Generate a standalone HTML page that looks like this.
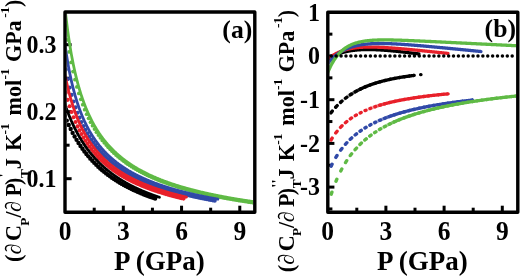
<!DOCTYPE html><html><head><meta charset="utf-8"><style>html,body{margin:0;padding:0;background:#fff;}svg{display:block;filter:blur(0.45px);}</style></head><body><svg width="520" height="276" viewBox="0 0 520 276" font-family="'Liberation Serif', 'DejaVu Serif', serif" font-weight="bold">
<rect width="520" height="276" fill="#fff"/>
<line x1="94.22" y1="212.30" x2="94.22" y2="207.70" stroke="#000" stroke-width="3"/>
<line x1="356.80" y1="212.30" x2="356.80" y2="207.70" stroke="#000" stroke-width="3"/>
<line x1="123.33" y1="212.30" x2="123.33" y2="205.70" stroke="#000" stroke-width="3"/>
<line x1="385.90" y1="212.30" x2="385.90" y2="205.70" stroke="#000" stroke-width="3"/>
<line x1="152.44" y1="212.30" x2="152.44" y2="207.70" stroke="#000" stroke-width="3"/>
<line x1="415.00" y1="212.30" x2="415.00" y2="207.70" stroke="#000" stroke-width="3"/>
<line x1="181.56" y1="212.30" x2="181.56" y2="205.70" stroke="#000" stroke-width="3"/>
<line x1="444.10" y1="212.30" x2="444.10" y2="205.70" stroke="#000" stroke-width="3"/>
<line x1="210.67" y1="212.30" x2="210.67" y2="207.70" stroke="#000" stroke-width="3"/>
<line x1="473.20" y1="212.30" x2="473.20" y2="207.70" stroke="#000" stroke-width="3"/>
<line x1="239.79" y1="212.30" x2="239.79" y2="205.70" stroke="#000" stroke-width="3"/>
<line x1="502.30" y1="212.30" x2="502.30" y2="205.70" stroke="#000" stroke-width="3"/>
<line x1="65.00" y1="178.70" x2="71.60" y2="178.70" stroke="#000" stroke-width="3"/>
<line x1="65.00" y1="145.20" x2="69.60" y2="145.20" stroke="#000" stroke-width="3"/>
<line x1="65.00" y1="111.70" x2="71.60" y2="111.70" stroke="#000" stroke-width="3"/>
<line x1="65.00" y1="78.20" x2="69.60" y2="78.20" stroke="#000" stroke-width="3"/>
<line x1="65.00" y1="44.70" x2="71.60" y2="44.70" stroke="#000" stroke-width="3"/>
<line x1="327.80" y1="34.15" x2="332.40" y2="34.15" stroke="#000" stroke-width="3"/>
<line x1="327.80" y1="56.00" x2="334.40" y2="56.00" stroke="#000" stroke-width="3"/>
<line x1="327.80" y1="77.85" x2="332.40" y2="77.85" stroke="#000" stroke-width="3"/>
<line x1="327.80" y1="99.70" x2="334.40" y2="99.70" stroke="#000" stroke-width="3"/>
<line x1="327.80" y1="121.55" x2="332.40" y2="121.55" stroke="#000" stroke-width="3"/>
<line x1="327.80" y1="143.40" x2="334.40" y2="143.40" stroke="#000" stroke-width="3"/>
<line x1="327.80" y1="165.25" x2="332.40" y2="165.25" stroke="#000" stroke-width="3"/>
<line x1="327.80" y1="187.10" x2="334.40" y2="187.10" stroke="#000" stroke-width="3"/>
<line x1="327.80" y1="208.95" x2="332.40" y2="208.95" stroke="#000" stroke-width="3"/>
<defs><clipPath id="cl"><rect x="66.5" y="13.5" width="186.5" height="197"/></clipPath><clipPath id="cr"><rect x="329.3" y="13.9" width="187" height="196.8"/></clipPath></defs>
<g clip-path="url(#cl)">
<g fill="#5fba45"><circle cx="63.31" cy="8.90" r="1.9"/><circle cx="65.25" cy="25.73" r="1.9"/><circle cx="67.19" cy="39.88" r="1.9"/><circle cx="69.14" cy="51.96" r="1.9"/><circle cx="71.08" cy="62.43" r="1.9"/><circle cx="73.03" cy="71.61" r="1.9"/><circle cx="74.98" cy="79.72" r="1.9"/><circle cx="76.93" cy="86.96" r="1.9"/><circle cx="78.87" cy="93.47" r="1.9"/><circle cx="80.82" cy="99.36" r="1.9"/><circle cx="82.78" cy="104.72" r="1.9"/><circle cx="84.73" cy="109.63" r="1.9"/><circle cx="86.68" cy="114.13" r="1.9"/><circle cx="88.63" cy="118.28" r="1.9"/><circle cx="90.59" cy="122.13" r="1.9"/><circle cx="92.55" cy="125.70" r="1.9"/><circle cx="94.50" cy="129.04" r="1.9"/><circle cx="96.46" cy="132.15" r="1.9"/><circle cx="98.42" cy="135.07" r="1.9"/><circle cx="100.37" cy="137.81" r="1.9"/><circle cx="102.33" cy="140.39" r="1.9"/><circle cx="104.29" cy="142.82" r="1.9"/><circle cx="106.25" cy="145.12" r="1.9"/><circle cx="108.21" cy="147.30" r="1.9"/><circle cx="110.17" cy="149.37" r="1.9"/><circle cx="112.13" cy="151.33" r="1.9"/><circle cx="114.08" cy="153.20" r="1.9"/><circle cx="116.04" cy="154.98" r="1.9"/><circle cx="118.00" cy="156.68" r="1.9"/><circle cx="119.96" cy="158.30" r="1.9"/><circle cx="121.92" cy="159.85" r="1.9"/><circle cx="123.87" cy="161.34" r="1.9"/><circle cx="125.83" cy="162.76" r="1.9"/><circle cx="127.79" cy="164.13" r="1.9"/><circle cx="129.74" cy="165.44" r="1.9"/><circle cx="131.70" cy="166.70" r="1.9"/><circle cx="133.66" cy="167.92" r="1.9"/><circle cx="135.61" cy="169.09" r="1.9"/><circle cx="137.57" cy="170.21" r="1.9"/><circle cx="139.52" cy="171.30" r="1.9"/><circle cx="141.47" cy="172.35" r="1.9"/><circle cx="143.43" cy="173.36" r="1.9"/><circle cx="145.38" cy="174.34" r="1.9"/><circle cx="147.33" cy="175.29" r="1.9"/><circle cx="149.28" cy="176.21" r="1.9"/><circle cx="151.24" cy="177.10" r="1.9"/><circle cx="153.19" cy="177.96" r="1.9"/><circle cx="155.14" cy="178.79" r="1.9"/><circle cx="157.09" cy="179.60" r="1.9"/><circle cx="159.04" cy="180.39" r="1.9"/><circle cx="160.99" cy="181.15" r="1.9"/><circle cx="162.94" cy="181.89" r="1.9"/><circle cx="164.89" cy="182.62" r="1.9"/><circle cx="166.84" cy="183.32" r="1.9"/><circle cx="168.79" cy="184.00" r="1.9"/><circle cx="170.74" cy="184.67" r="1.9"/><circle cx="172.68" cy="185.31" r="1.9"/><circle cx="174.63" cy="185.94" r="1.9"/><circle cx="176.58" cy="186.56" r="1.9"/><circle cx="178.53" cy="187.16" r="1.9"/><circle cx="180.48" cy="187.74" r="1.9"/><circle cx="182.42" cy="188.32" r="1.9"/><circle cx="184.37" cy="188.87" r="1.9"/><circle cx="186.32" cy="189.42" r="1.9"/><circle cx="188.26" cy="189.95" r="1.9"/><circle cx="190.21" cy="190.47" r="1.9"/><circle cx="192.16" cy="190.98" r="1.9"/><circle cx="194.10" cy="191.47" r="1.9"/><circle cx="196.05" cy="191.96" r="1.9"/><circle cx="197.99" cy="192.43" r="1.9"/><circle cx="199.94" cy="192.90" r="1.9"/><circle cx="201.89" cy="193.35" r="1.9"/><circle cx="203.83" cy="193.80" r="1.9"/><circle cx="205.78" cy="194.23" r="1.9"/><circle cx="207.72" cy="194.66" r="1.9"/><circle cx="209.67" cy="195.08" r="1.9"/><circle cx="211.61" cy="195.49" r="1.9"/><circle cx="213.56" cy="195.89" r="1.9"/><circle cx="215.50" cy="196.29" r="1.9"/><circle cx="217.45" cy="196.68" r="1.9"/><circle cx="219.39" cy="197.06" r="1.9"/><circle cx="221.33" cy="197.43" r="1.9"/><circle cx="223.28" cy="197.80" r="1.9"/><circle cx="225.22" cy="198.16" r="1.9"/><circle cx="227.17" cy="198.51" r="1.9"/><circle cx="229.11" cy="198.85" r="1.9"/><circle cx="231.06" cy="199.19" r="1.9"/><circle cx="233.00" cy="199.53" r="1.9"/><circle cx="234.94" cy="199.86" r="1.9"/><circle cx="236.89" cy="200.18" r="1.9"/><circle cx="238.83" cy="200.50" r="1.9"/><circle cx="240.77" cy="200.81" r="1.9"/><circle cx="242.72" cy="201.12" r="1.9"/><circle cx="244.66" cy="201.42" r="1.9"/><circle cx="246.60" cy="201.71" r="1.9"/><circle cx="248.55" cy="202.01" r="1.9"/><circle cx="250.49" cy="202.29" r="1.9"/><circle cx="252.43" cy="202.58" r="1.9"/><circle cx="254.38" cy="202.86" r="1.9"/><circle cx="256.32" cy="203.13" r="1.9"/><circle cx="258.26" cy="203.40" r="1.9"/></g>
<path d="M65.10,8.79 L65.59,13.30 L66.07,17.61 L66.56,21.72 L67.05,25.64 L67.53,29.41 L68.02,33.01 L68.51,36.47 L68.99,39.80 L69.48,42.99 L69.96,46.06 L70.45,49.02 L70.94,51.88 L71.42,54.63 L71.91,57.29 L72.40,59.85 L72.88,62.34 L73.37,64.74 L73.86,67.06 L74.34,69.31 L74.83,71.49 L75.32,73.61 L75.80,75.66 L76.29,77.65 L76.78,79.59 L77.26,81.47 L77.75,83.30 L78.23,85.08 L78.72,86.81 L79.21,88.50 L79.69,90.14 L80.18,91.74 L80.67,93.30 L81.15,94.82 L81.64,96.30 L82.13,97.75 L82.61,99.16 L83.10,100.54 L83.59,101.89 L84.07,103.21 L84.56,104.50 L85.05,105.75 L85.53,106.99 L86.02,108.19 L86.50,109.37 L86.99,110.52 L87.48,111.65 L87.96,112.76 L88.45,113.85 L88.94,114.91 L89.42,115.95 L89.91,116.97 L90.40,117.97 L90.88,118.95 L91.37,119.92 L91.86,120.86 L92.34,121.79 L92.83,122.70 L93.32,123.60 L93.80,124.48 L94.29,125.34 L94.77,126.19 L95.26,127.02 L95.75,127.84 L96.23,128.64 L96.72,129.44 L97.21,130.21 L97.69,130.98 L98.18,131.73 L98.67,132.47 L99.15,133.20 L99.64,133.92 L100.13,134.62 L100.61,135.32 L101.10,136.00 L101.58,136.68 L102.07,137.34 L102.56,137.99 L103.04,138.64 L103.53,139.27 L104.02,139.90 L104.50,140.51 L104.99,141.12 L105.48,141.72 L105.96,142.31 L106.45,142.89 L106.94,143.46 L107.42,144.03 L107.91,144.59 L108.40,145.14 L108.88,145.68 L109.37,146.22 L109.85,146.75 L110.34,147.27 L110.83,147.78 L111.31,148.29 L111.80,148.79 L112.29,149.29 L112.77,149.78 L113.26,150.26 L113.75,150.74 L114.23,151.21 L114.72,151.67 L115.21,152.13 L115.69,152.59 L116.18,153.04 L116.67,153.48 L117.15,153.92 L117.64,154.35 L118.12,154.78 L118.61,155.20 L119.10,155.62 L119.58,156.03 L120.07,156.44 L120.56,156.84 L121.04,157.24 L121.53,157.64 L122.02,158.03 L122.50,158.42 L122.99,158.80 L123.48,159.18 L123.96,159.55 L124.45,159.92 L124.94,160.29 L125.42,160.65 L125.91,161.01 L126.39,161.36 L126.88,161.71 L127.37,162.06 L127.85,162.40 L128.34,162.74 L128.83,163.08 L129.31,163.41 L129.80,163.74 L130.29,164.07 L130.77,164.39 L131.26,164.72 L131.75,165.03 L132.23,165.35 L132.72,165.66 L133.21,165.97 L133.69,166.27 L134.18,166.57 L134.66,166.87 L135.15,167.17 L135.64,167.46 L136.12,167.75 L136.61,168.04 L137.10,168.33 L137.58,168.61 L138.07,168.89 L138.56,169.17 L139.04,169.45 L139.53,169.72 L140.02,169.99 L140.50,170.26 L140.99,170.53 L141.48,170.79 L141.96,171.05 L142.45,171.31 L142.93,171.57 L143.42,171.82 L143.91,172.07 L144.39,172.32 L144.88,172.57 L145.37,172.82 L145.85,173.06 L146.34,173.31 L146.83,173.55 L147.31,173.78 L147.80,174.02 L148.29,174.25 L148.77,174.49 L149.26,174.72 L149.75,174.95 L150.23,175.17 L150.72,175.40 L151.20,175.62 L151.69,175.84 L152.18,176.06 L152.66,176.28 L153.15,176.50 L153.64,176.71 L154.12,176.93 L154.61,177.14 L155.10,177.35 L155.58,177.55 L156.07,177.76 L156.56,177.97 L157.04,178.17 L157.53,178.37 L158.02,178.57 L158.50,178.77 L158.99,178.97 L159.47,179.17 L159.96,179.36 L160.45,179.55 L160.93,179.75 L161.42,179.94 L161.91,180.12 L162.39,180.31 L162.88,180.50 L163.37,180.68 L163.85,180.87 L164.34,181.05 L164.83,181.23 L165.31,181.41 L165.80,181.59 L166.28,181.77 L166.77,181.94 L167.26,182.12 L167.74,182.29 L168.23,182.47 L168.72,182.64 L169.20,182.81 L169.69,182.98 L170.18,183.15 L170.66,183.31 L171.15,183.48 L171.64,183.64 L172.12,183.81 L172.61,183.97 L173.10,184.13 L173.58,184.29 L174.07,184.45 L174.55,184.61 L175.04,184.77 L175.53,184.92 L176.01,185.08 L176.50,185.23 L176.99,185.39 L177.47,185.54 L177.96,185.69 L178.45,185.84 L178.93,185.99 L179.42,186.14 L179.91,186.29 L180.39,186.44 L180.88,186.58 L181.37,186.73 L181.85,186.87 L182.34,187.02 L182.82,187.16 L183.31,187.30 L183.80,187.44 L184.28,187.58 L184.77,187.72 L185.26,187.86 L185.74,188.00 L186.23,188.13 L186.72,188.27 L187.20,188.40 L187.69,188.54 L188.18,188.67 L188.66,188.80 L189.15,188.94 L189.64,189.07 L190.12,189.20 L190.61,189.33 L191.09,189.46 L191.58,189.58 L192.07,189.71 L192.55,189.84 L193.04,189.96 L193.53,190.09 L194.01,190.21 L194.50,190.34 L194.99,190.46 L195.47,190.58 L195.96,190.71 L196.45,190.83 L196.93,190.95 L197.42,191.07 L197.91,191.19 L198.39,191.31 L198.88,191.42 L199.36,191.54 L199.85,191.66 L200.34,191.77 L200.82,191.89 L201.31,192.00 L201.80,192.12 L202.28,192.23 L202.77,192.35 L203.26,192.46 L203.74,192.57 L204.23,192.68 L204.72,192.79 L205.20,192.90 L205.69,193.01 L206.18,193.12 L206.66,193.23 L207.15,193.34 L207.63,193.44 L208.12,193.55 L208.61,193.66 L209.09,193.76 L209.58,193.87 L210.07,193.97 L210.55,194.08 L211.04,194.18 L211.53,194.28 L212.01,194.39 L212.50,194.49 L212.99,194.59 L213.47,194.69 L213.96,194.79 L214.45,194.89 L214.93,194.99 L215.42,195.09 L215.90,195.19 L216.39,195.29 L216.88,195.39 L217.36,195.48 L217.85,195.58 L218.34,195.68 L218.82,195.77 L219.31,195.87 L219.80,195.96 L220.28,196.06 L220.77,196.15 L221.26,196.24 L221.74,196.34 L222.23,196.43 L222.72,196.52 L223.20,196.61 L223.69,196.71 L224.17,196.80 L224.66,196.89 L225.15,196.98 L225.63,197.07 L226.12,197.16 L226.61,197.25 L227.09,197.33 L227.58,197.42 L228.07,197.51 L228.55,197.60 L229.04,197.68 L229.53,197.77 L230.01,197.86 L230.50,197.94 L230.98,198.03 L231.47,198.11 L231.96,198.20 L232.44,198.28 L232.93,198.37 L233.42,198.45 L233.90,198.53 L234.39,198.61 L234.88,198.70 L235.36,198.78 L235.85,198.86 L236.34,198.94 L236.82,199.02 L237.31,199.10 L237.80,199.18 L238.28,199.26 L238.77,199.34 L239.25,199.42 L239.74,199.50 L240.23,199.58 L240.71,199.66 L241.20,199.74 L241.69,199.81 L242.17,199.89 L242.66,199.97 L243.15,200.05 L243.63,200.12 L244.12,200.20 L244.61,200.27 L245.09,200.35 L245.58,200.42 L246.07,200.50 L246.55,200.57 L247.04,200.65 L247.52,200.72 L248.01,200.80 L248.50,200.87 L248.98,200.94 L249.47,201.01 L249.96,201.09 L250.44,201.16 L250.93,201.23 L251.42,201.30 L251.90,201.37 L252.39,201.44 L252.88,201.51 L253.36,201.59 L253.85,201.66 L254.34,201.72 L254.82,201.79 L255.31,201.86 L255.79,201.93 L256.28,202.00 L256.77,202.07 L257.25,202.14 L257.74,202.21 L258.23,202.27 L258.71,202.34 L259.20,202.41" fill="none" stroke="#5fba45" stroke-width="2.8" stroke-linecap="round" stroke-linejoin="round"/>
<g fill="#3049a8"><circle cx="61.82" cy="45.38" r="2.1"/><circle cx="63.76" cy="58.46" r="2.1"/><circle cx="65.71" cy="69.57" r="2.1"/><circle cx="67.66" cy="79.16" r="2.1"/><circle cx="69.62" cy="87.54" r="2.1"/><circle cx="71.57" cy="94.93" r="2.1"/><circle cx="73.53" cy="101.52" r="2.1"/><circle cx="75.49" cy="107.43" r="2.1"/><circle cx="77.45" cy="112.77" r="2.1"/><circle cx="79.41" cy="117.63" r="2.1"/><circle cx="81.38" cy="122.07" r="2.1"/><circle cx="83.34" cy="126.14" r="2.1"/><circle cx="85.31" cy="129.90" r="2.1"/><circle cx="87.28" cy="133.38" r="2.1"/><circle cx="89.25" cy="136.61" r="2.1"/><circle cx="91.23" cy="139.63" r="2.1"/><circle cx="93.20" cy="142.44" r="2.1"/><circle cx="95.17" cy="145.08" r="2.1"/><circle cx="97.15" cy="147.55" r="2.1"/><circle cx="99.12" cy="149.89" r="2.1"/><circle cx="101.10" cy="152.08" r="2.1"/><circle cx="103.07" cy="154.16" r="2.1"/><circle cx="105.05" cy="156.13" r="2.1"/><circle cx="107.02" cy="158.00" r="2.1"/><circle cx="109.00" cy="159.77" r="2.1"/><circle cx="110.97" cy="161.45" r="2.1"/><circle cx="112.95" cy="163.06" r="2.1"/><circle cx="114.92" cy="164.59" r="2.1"/><circle cx="116.89" cy="166.06" r="2.1"/><circle cx="118.86" cy="167.45" r="2.1"/><circle cx="120.83" cy="168.79" r="2.1"/><circle cx="122.80" cy="170.08" r="2.1"/><circle cx="124.77" cy="171.31" r="2.1"/><circle cx="126.74" cy="172.49" r="2.1"/><circle cx="128.71" cy="173.63" r="2.1"/><circle cx="130.67" cy="174.72" r="2.1"/><circle cx="132.64" cy="175.78" r="2.1"/><circle cx="134.60" cy="176.79" r="2.1"/><circle cx="136.57" cy="177.77" r="2.1"/><circle cx="138.53" cy="178.72" r="2.1"/><circle cx="140.49" cy="179.63" r="2.1"/><circle cx="142.45" cy="180.51" r="2.1"/><circle cx="144.41" cy="181.37" r="2.1"/><circle cx="146.37" cy="182.19" r="2.1"/><circle cx="148.33" cy="182.99" r="2.1"/><circle cx="150.29" cy="183.77" r="2.1"/><circle cx="152.25" cy="184.52" r="2.1"/><circle cx="154.21" cy="185.25" r="2.1"/><circle cx="156.16" cy="185.96" r="2.1"/><circle cx="158.12" cy="186.65" r="2.1"/><circle cx="160.07" cy="187.32" r="2.1"/><circle cx="162.03" cy="187.97" r="2.1"/><circle cx="163.98" cy="188.60" r="2.1"/><circle cx="165.94" cy="189.22" r="2.1"/><circle cx="167.89" cy="189.82" r="2.1"/><circle cx="169.85" cy="190.40" r="2.1"/><circle cx="171.80" cy="190.97" r="2.1"/><circle cx="173.75" cy="191.53" r="2.1"/><circle cx="175.70" cy="192.07" r="2.1"/><circle cx="177.65" cy="192.60" r="2.1"/><circle cx="179.61" cy="193.11" r="2.1"/><circle cx="181.56" cy="193.61" r="2.1"/><circle cx="183.51" cy="194.11" r="2.1"/><circle cx="185.46" cy="194.59" r="2.1"/><circle cx="187.41" cy="195.05" r="2.1"/><circle cx="189.36" cy="195.51" r="2.1"/><circle cx="191.31" cy="195.96" r="2.1"/><circle cx="193.26" cy="196.40" r="2.1"/><circle cx="195.20" cy="196.83" r="2.1"/><circle cx="197.15" cy="197.25" r="2.1"/><circle cx="199.10" cy="197.66" r="2.1"/><circle cx="201.05" cy="198.06" r="2.1"/><circle cx="203.00" cy="198.46" r="2.1"/><circle cx="204.95" cy="198.85" r="2.1"/><circle cx="206.89" cy="199.22" r="2.1"/><circle cx="208.84" cy="199.60" r="2.1"/><circle cx="210.79" cy="199.96" r="2.1"/><circle cx="212.74" cy="200.32" r="2.1"/><circle cx="214.68" cy="200.67" r="2.1"/></g>
<path d="M65.10,45.14 L65.48,47.89 L65.87,50.55 L66.25,53.12 L66.63,55.60 L67.01,58.00 L67.40,60.33 L67.78,62.59 L68.16,64.77 L68.55,66.90 L68.93,68.95 L69.31,70.95 L69.69,72.90 L70.08,74.79 L70.46,76.62 L70.84,78.41 L71.23,80.15 L71.61,81.84 L71.99,83.49 L72.37,85.10 L72.76,86.67 L73.14,88.20 L73.52,89.70 L73.91,91.15 L74.29,92.58 L74.67,93.97 L75.05,95.33 L75.44,96.65 L75.82,97.95 L76.20,99.22 L76.59,100.46 L76.97,101.68 L77.35,102.87 L77.73,104.04 L78.12,105.18 L78.50,106.30 L78.88,107.39 L79.27,108.47 L79.65,109.52 L80.03,110.55 L80.41,111.57 L80.80,112.56 L81.18,113.53 L81.56,114.49 L81.95,115.43 L82.33,116.35 L82.71,117.26 L83.09,118.15 L83.48,119.02 L83.86,119.88 L84.24,120.73 L84.63,121.56 L85.01,122.38 L85.39,123.18 L85.77,123.97 L86.16,124.75 L86.54,125.51 L86.92,126.26 L87.31,127.00 L87.69,127.73 L88.07,128.45 L88.45,129.15 L88.84,129.85 L89.22,130.53 L89.60,131.21 L89.99,131.87 L90.37,132.53 L90.75,133.17 L91.13,133.81 L91.52,134.44 L91.90,135.06 L92.28,135.67 L92.67,136.27 L93.05,136.86 L93.43,137.44 L93.81,138.02 L94.20,138.59 L94.58,139.15 L94.96,139.70 L95.35,140.25 L95.73,140.79 L96.11,141.32 L96.49,141.85 L96.88,142.37 L97.26,142.88 L97.64,143.38 L98.03,143.88 L98.41,144.38 L98.79,144.86 L99.17,145.35 L99.56,145.82 L99.94,146.29 L100.32,146.75 L100.70,147.21 L101.09,147.67 L101.47,148.12 L101.85,148.56 L102.24,149.00 L102.62,149.43 L103.00,149.86 L103.38,150.28 L103.77,150.70 L104.15,151.11 L104.53,151.52 L104.92,151.92 L105.30,152.32 L105.68,152.72 L106.06,153.11 L106.45,153.50 L106.83,153.88 L107.21,154.26 L107.60,154.64 L107.98,155.01 L108.36,155.38 L108.74,155.74 L109.13,156.10 L109.51,156.46 L109.89,156.81 L110.28,157.16 L110.66,157.50 L111.04,157.85 L111.42,158.19 L111.81,158.52 L112.19,158.85 L112.57,159.18 L112.96,159.51 L113.34,159.83 L113.72,160.15 L114.10,160.47 L114.49,160.78 L114.87,161.09 L115.25,161.40 L115.64,161.71 L116.02,162.01 L116.40,162.31 L116.78,162.61 L117.17,162.90 L117.55,163.19 L117.93,163.48 L118.32,163.77 L118.70,164.05 L119.08,164.33 L119.46,164.61 L119.85,164.89 L120.23,165.16 L120.61,165.43 L121.00,165.70 L121.38,165.97 L121.76,166.23 L122.14,166.50 L122.53,166.76 L122.91,167.01 L123.29,167.27 L123.68,167.52 L124.06,167.78 L124.44,168.03 L124.82,168.27 L125.21,168.52 L125.59,168.76 L125.97,169.01 L126.36,169.25 L126.74,169.48 L127.12,169.72 L127.50,169.95 L127.89,170.19 L128.27,170.42 L128.65,170.65 L129.04,170.87 L129.42,171.10 L129.80,171.32 L130.18,171.54 L130.57,171.76 L130.95,171.98 L131.33,172.20 L131.72,172.41 L132.10,172.63 L132.48,172.84 L132.86,173.05 L133.25,173.26 L133.63,173.47 L134.01,173.67 L134.40,173.88 L134.78,174.08 L135.16,174.28 L135.54,174.48 L135.93,174.68 L136.31,174.88 L136.69,175.07 L137.08,175.27 L137.46,175.46 L137.84,175.65 L138.22,175.84 L138.61,176.03 L138.99,176.22 L139.37,176.41 L139.76,176.59 L140.14,176.78 L140.52,176.96 L140.90,177.14 L141.29,177.32 L141.67,177.50 L142.05,177.68 L142.44,177.85 L142.82,178.03 L143.20,178.20 L143.58,178.38 L143.97,178.55 L144.35,178.72 L144.73,178.89 L145.12,179.06 L145.50,179.23 L145.88,179.39 L146.26,179.56 L146.65,179.72 L147.03,179.89 L147.41,180.05 L147.80,180.21 L148.18,180.37 L148.56,180.53 L148.94,180.69 L149.33,180.85 L149.71,181.00 L150.09,181.16 L150.48,181.31 L150.86,181.47 L151.24,181.62 L151.62,181.77 L152.01,181.92 L152.39,182.07 L152.77,182.22 L153.16,182.37 L153.54,182.52 L153.92,182.66 L154.30,182.81 L154.69,182.95 L155.07,183.10 L155.45,183.24 L155.84,183.38 L156.22,183.52 L156.60,183.66 L156.98,183.80 L157.37,183.94 L157.75,184.08 L158.13,184.22 L158.52,184.35 L158.90,184.49 L159.28,184.63 L159.66,184.76 L160.05,184.89 L160.43,185.03 L160.81,185.16 L161.20,185.29 L161.58,185.42 L161.96,185.55 L162.34,185.68 L162.73,185.81 L163.11,185.94 L163.49,186.06 L163.88,186.19 L164.26,186.31 L164.64,186.44 L165.02,186.56 L165.41,186.69 L165.79,186.81 L166.17,186.93 L166.55,187.05 L166.94,187.18 L167.32,187.30 L167.70,187.42 L168.09,187.54 L168.47,187.65 L168.85,187.77 L169.23,187.89 L169.62,188.01 L170.00,188.12 L170.38,188.24 L170.77,188.35 L171.15,188.47 L171.53,188.58 L171.91,188.69 L172.30,188.81 L172.68,188.92 L173.06,189.03 L173.45,189.14 L173.83,189.25 L174.21,189.36 L174.59,189.47 L174.98,189.58 L175.36,189.69 L175.74,189.80 L176.13,189.90 L176.51,190.01 L176.89,190.12 L177.27,190.22 L177.66,190.33 L178.04,190.43 L178.42,190.54 L178.81,190.64 L179.19,190.74 L179.57,190.84 L179.95,190.95 L180.34,191.05 L180.72,191.15 L181.10,191.25 L181.49,191.35 L181.87,191.45 L182.25,191.55 L182.63,191.65 L183.02,191.75 L183.40,191.84 L183.78,191.94 L184.17,192.04 L184.55,192.14 L184.93,192.23 L185.31,192.33 L185.70,192.42 L186.08,192.52 L186.46,192.61 L186.85,192.71 L187.23,192.80 L187.61,192.89 L187.99,192.98 L188.38,193.08 L188.76,193.17 L189.14,193.26 L189.53,193.35 L189.91,193.44 L190.29,193.53 L190.67,193.62 L191.06,193.71 L191.44,193.80 L191.82,193.89 L192.21,193.98 L192.59,194.07 L192.97,194.15 L193.35,194.24 L193.74,194.33 L194.12,194.41 L194.50,194.50 L194.89,194.59 L195.27,194.67 L195.65,194.76 L196.03,194.84 L196.42,194.92 L196.80,195.01 L197.18,195.09 L197.57,195.18 L197.95,195.26 L198.33,195.34 L198.71,195.42 L199.10,195.50 L199.48,195.59 L199.86,195.67 L200.25,195.75 L200.63,195.83 L201.01,195.91 L201.39,195.99 L201.78,196.07 L202.16,196.15 L202.54,196.23 L202.93,196.30 L203.31,196.38 L203.69,196.46 L204.07,196.54 L204.46,196.61 L204.84,196.69 L205.22,196.77 L205.61,196.84 L205.99,196.92 L206.37,197.00 L206.75,197.07 L207.14,197.15 L207.52,197.22 L207.90,197.30 L208.29,197.37 L208.67,197.44 L209.05,197.52 L209.43,197.59 L209.82,197.66 L210.20,197.74 L210.58,197.81 L210.97,197.88 L211.35,197.95 L211.73,198.03 L212.11,198.10 L212.50,198.17 L212.88,198.24 L213.26,198.31 L213.65,198.38 L214.03,198.45 L214.41,198.52 L214.79,198.59 L215.18,198.66 L215.56,198.73 L215.94,198.80 L216.33,198.87 L216.71,198.93 L217.09,199.00 L217.47,199.07 L217.86,199.14" fill="none" stroke="#3049a8" stroke-width="2.8" stroke-linecap="round" stroke-linejoin="round"/>
<g fill="#e8202a"><circle cx="61.83" cy="75.42" r="2.1"/><circle cx="63.79" cy="84.60" r="2.1"/><circle cx="65.74" cy="92.68" r="2.1"/><circle cx="67.69" cy="99.84" r="2.1"/><circle cx="69.65" cy="106.25" r="2.1"/><circle cx="71.61" cy="112.02" r="2.1"/><circle cx="73.57" cy="117.25" r="2.1"/><circle cx="75.53" cy="122.01" r="2.1"/><circle cx="77.50" cy="126.38" r="2.1"/><circle cx="79.47" cy="130.39" r="2.1"/><circle cx="81.43" cy="134.10" r="2.1"/><circle cx="83.40" cy="137.54" r="2.1"/><circle cx="85.38" cy="140.73" r="2.1"/><circle cx="87.35" cy="143.71" r="2.1"/><circle cx="89.32" cy="146.50" r="2.1"/><circle cx="91.30" cy="149.11" r="2.1"/><circle cx="93.27" cy="151.57" r="2.1"/><circle cx="95.25" cy="153.88" r="2.1"/><circle cx="97.22" cy="156.06" r="2.1"/><circle cx="99.20" cy="158.13" r="2.1"/><circle cx="101.17" cy="160.08" r="2.1"/><circle cx="103.15" cy="161.93" r="2.1"/><circle cx="105.12" cy="163.69" r="2.1"/><circle cx="107.10" cy="165.36" r="2.1"/><circle cx="109.07" cy="166.96" r="2.1"/><circle cx="111.04" cy="168.48" r="2.1"/><circle cx="113.01" cy="169.93" r="2.1"/><circle cx="114.99" cy="171.32" r="2.1"/><circle cx="116.96" cy="172.65" r="2.1"/><circle cx="118.93" cy="173.92" r="2.1"/><circle cx="120.89" cy="175.15" r="2.1"/><circle cx="122.86" cy="176.32" r="2.1"/><circle cx="124.83" cy="177.45" r="2.1"/><circle cx="126.80" cy="178.53" r="2.1"/><circle cx="128.76" cy="179.58" r="2.1"/><circle cx="130.73" cy="180.58" r="2.1"/><circle cx="132.69" cy="181.55" r="2.1"/><circle cx="134.65" cy="182.49" r="2.1"/><circle cx="136.62" cy="183.39" r="2.1"/><circle cx="138.58" cy="184.27" r="2.1"/><circle cx="140.54" cy="185.11" r="2.1"/><circle cx="142.50" cy="185.93" r="2.1"/><circle cx="144.46" cy="186.72" r="2.1"/><circle cx="146.42" cy="187.49" r="2.1"/><circle cx="148.37" cy="188.24" r="2.1"/><circle cx="150.33" cy="188.96" r="2.1"/><circle cx="152.29" cy="189.66" r="2.1"/><circle cx="154.24" cy="190.34" r="2.1"/><circle cx="156.20" cy="191.00" r="2.1"/><circle cx="158.15" cy="191.64" r="2.1"/><circle cx="160.11" cy="192.27" r="2.1"/><circle cx="162.06" cy="192.87" r="2.1"/><circle cx="164.02" cy="193.46" r="2.1"/><circle cx="165.97" cy="194.04" r="2.1"/><circle cx="167.92" cy="194.60" r="2.1"/><circle cx="169.88" cy="195.15" r="2.1"/><circle cx="171.83" cy="195.68" r="2.1"/><circle cx="173.78" cy="196.20" r="2.1"/><circle cx="175.73" cy="196.71" r="2.1"/><circle cx="177.68" cy="197.20" r="2.1"/><circle cx="179.63" cy="197.69" r="2.1"/><circle cx="181.58" cy="198.16" r="2.1"/><circle cx="183.53" cy="198.62" r="2.1"/></g>
<path d="M65.10,75.07 L65.40,76.58 L65.71,78.06 L66.01,79.51 L66.32,80.93 L66.62,82.33 L66.92,83.69 L67.23,85.02 L67.53,86.33 L67.84,87.61 L68.14,88.87 L68.44,90.10 L68.75,91.31 L69.05,92.50 L69.36,93.67 L69.66,94.81 L69.96,95.93 L70.27,97.03 L70.57,98.12 L70.88,99.18 L71.18,100.22 L71.48,101.25 L71.79,102.26 L72.09,103.25 L72.40,104.23 L72.70,105.19 L73.01,106.13 L73.31,107.06 L73.61,107.97 L73.92,108.87 L74.22,109.75 L74.53,110.62 L74.83,111.48 L75.13,112.32 L75.44,113.15 L75.74,113.97 L76.05,114.78 L76.35,115.57 L76.65,116.35 L76.96,117.12 L77.26,117.88 L77.57,118.63 L77.87,119.37 L78.17,120.10 L78.48,120.81 L78.78,121.52 L79.09,122.22 L79.39,122.91 L79.69,123.58 L80.00,124.25 L80.30,124.91 L80.61,125.57 L80.91,126.21 L81.21,126.84 L81.52,127.47 L81.82,128.09 L82.13,128.70 L82.43,129.30 L82.73,129.90 L83.04,130.49 L83.34,131.07 L83.65,131.64 L83.95,132.21 L84.25,132.77 L84.56,133.32 L84.86,133.87 L85.17,134.41 L85.47,134.94 L85.77,135.47 L86.08,135.99 L86.38,136.50 L86.69,137.01 L86.99,137.52 L87.30,138.01 L87.60,138.51 L87.90,138.99 L88.21,139.47 L88.51,139.95 L88.82,140.42 L89.12,140.89 L89.42,141.35 L89.73,141.80 L90.03,142.25 L90.34,142.70 L90.64,143.14 L90.94,143.58 L91.25,144.01 L91.55,144.44 L91.86,144.86 L92.16,145.28 L92.46,145.70 L92.77,146.11 L93.07,146.51 L93.38,146.92 L93.68,147.32 L93.98,147.71 L94.29,148.10 L94.59,148.49 L94.90,148.87 L95.20,149.25 L95.50,149.63 L95.81,150.00 L96.11,150.37 L96.42,150.73 L96.72,151.09 L97.02,151.45 L97.33,151.81 L97.63,152.16 L97.94,152.51 L98.24,152.86 L98.54,153.20 L98.85,153.54 L99.15,153.87 L99.46,154.21 L99.76,154.54 L100.06,154.86 L100.37,155.19 L100.67,155.51 L100.98,155.83 L101.28,156.15 L101.58,156.46 L101.89,156.77 L102.19,157.08 L102.50,157.38 L102.80,157.69 L103.11,157.99 L103.41,158.29 L103.71,158.58 L104.02,158.87 L104.32,159.17 L104.63,159.45 L104.93,159.74 L105.23,160.02 L105.54,160.30 L105.84,160.58 L106.15,160.86 L106.45,161.13 L106.75,161.41 L107.06,161.68 L107.36,161.95 L107.67,162.21 L107.97,162.48 L108.27,162.74 L108.58,163.00 L108.88,163.26 L109.19,163.51 L109.49,163.77 L109.79,164.02 L110.10,164.27 L110.40,164.52 L110.71,164.76 L111.01,165.01 L111.31,165.25 L111.62,165.49 L111.92,165.73 L112.23,165.97 L112.53,166.21 L112.83,166.44 L113.14,166.67 L113.44,166.90 L113.75,167.13 L114.05,167.36 L114.35,167.59 L114.66,167.81 L114.96,168.03 L115.27,168.25 L115.57,168.47 L115.87,168.69 L116.18,168.91 L116.48,169.12 L116.79,169.34 L117.09,169.55 L117.40,169.76 L117.70,169.97 L118.00,170.18 L118.31,170.38 L118.61,170.59 L118.92,170.79 L119.22,171.00 L119.52,171.20 L119.83,171.40 L120.13,171.60 L120.44,171.79 L120.74,171.99 L121.04,172.18 L121.35,172.38 L121.65,172.57 L121.96,172.76 L122.26,172.95 L122.56,173.14 L122.87,173.33 L123.17,173.51 L123.48,173.70 L123.78,173.88 L124.08,174.06 L124.39,174.24 L124.69,174.42 L125.00,174.60 L125.30,174.78 L125.60,174.96 L125.91,175.14 L126.21,175.31 L126.52,175.48 L126.82,175.66 L127.12,175.83 L127.43,176.00 L127.73,176.17 L128.04,176.34 L128.34,176.51 L128.64,176.67 L128.95,176.84 L129.25,177.00 L129.56,177.17 L129.86,177.33 L130.16,177.49 L130.47,177.65 L130.77,177.81 L131.08,177.97 L131.38,178.13 L131.69,178.29 L131.99,178.44 L132.29,178.60 L132.60,178.75 L132.90,178.91 L133.21,179.06 L133.51,179.21 L133.81,179.36 L134.12,179.51 L134.42,179.66 L134.73,179.81 L135.03,179.96 L135.33,180.11 L135.64,180.25 L135.94,180.40 L136.25,180.54 L136.55,180.69 L136.85,180.83 L137.16,180.97 L137.46,181.11 L137.77,181.25 L138.07,181.39 L138.37,181.53 L138.68,181.67 L138.98,181.81 L139.29,181.95 L139.59,182.08 L139.89,182.22 L140.20,182.35 L140.50,182.49 L140.81,182.62 L141.11,182.76 L141.41,182.89 L141.72,183.02 L142.02,183.15 L142.33,183.28 L142.63,183.41 L142.93,183.54 L143.24,183.67 L143.54,183.79 L143.85,183.92 L144.15,184.05 L144.45,184.17 L144.76,184.30 L145.06,184.42 L145.37,184.55 L145.67,184.67 L145.97,184.79 L146.28,184.91 L146.58,185.04 L146.89,185.16 L147.19,185.28 L147.50,185.40 L147.80,185.52 L148.10,185.63 L148.41,185.75 L148.71,185.87 L149.02,185.99 L149.32,186.10 L149.62,186.22 L149.93,186.33 L150.23,186.45 L150.54,186.56 L150.84,186.67 L151.14,186.79 L151.45,186.90 L151.75,187.01 L152.06,187.12 L152.36,187.23 L152.66,187.34 L152.97,187.45 L153.27,187.56 L153.58,187.67 L153.88,187.78 L154.18,187.89 L154.49,188.00 L154.79,188.10 L155.10,188.21 L155.40,188.32 L155.70,188.42 L156.01,188.53 L156.31,188.63 L156.62,188.73 L156.92,188.84 L157.22,188.94 L157.53,189.04 L157.83,189.15 L158.14,189.25 L158.44,189.35 L158.74,189.45 L159.05,189.55 L159.35,189.65 L159.66,189.75 L159.96,189.85 L160.26,189.95 L160.57,190.04 L160.87,190.14 L161.18,190.24 L161.48,190.34 L161.79,190.43 L162.09,190.53 L162.39,190.63 L162.70,190.72 L163.00,190.82 L163.31,190.91 L163.61,191.00 L163.91,191.10 L164.22,191.19 L164.52,191.28 L164.83,191.38 L165.13,191.47 L165.43,191.56 L165.74,191.65 L166.04,191.74 L166.35,191.83 L166.65,191.92 L166.95,192.01 L167.26,192.10 L167.56,192.19 L167.87,192.28 L168.17,192.37 L168.47,192.46 L168.78,192.55 L169.08,192.63 L169.39,192.72 L169.69,192.81 L169.99,192.89 L170.30,192.98 L170.60,193.06 L170.91,193.15 L171.21,193.23 L171.51,193.32 L171.82,193.40 L172.12,193.49 L172.43,193.57 L172.73,193.65 L173.03,193.74 L173.34,193.82 L173.64,193.90 L173.95,193.98 L174.25,194.07 L174.55,194.15 L174.86,194.23 L175.16,194.31 L175.47,194.39 L175.77,194.47 L176.08,194.55 L176.38,194.63 L176.68,194.71 L176.99,194.79 L177.29,194.87 L177.60,194.94 L177.90,195.02 L178.20,195.10 L178.51,195.18 L178.81,195.25 L179.12,195.33 L179.42,195.41 L179.72,195.48 L180.03,195.56 L180.33,195.64 L180.64,195.71 L180.94,195.79 L181.24,195.86 L181.55,195.94 L181.85,196.01 L182.16,196.08 L182.46,196.16 L182.76,196.23 L183.07,196.30 L183.37,196.38 L183.68,196.45 L183.98,196.52 L184.28,196.60 L184.59,196.67 L184.89,196.74 L185.20,196.81 L185.50,196.88 L185.80,196.95 L186.11,197.02 L186.41,197.09" fill="none" stroke="#e8202a" stroke-width="2.8" stroke-linecap="round" stroke-linejoin="round"/>
<g fill="#000000"><circle cx="60.89" cy="105.31" r="2.2"/><circle cx="62.85" cy="110.80" r="2.2"/><circle cx="64.80" cy="115.88" r="2.2"/><circle cx="66.76" cy="120.59" r="2.2"/><circle cx="68.72" cy="124.98" r="2.2"/><circle cx="70.68" cy="129.06" r="2.2"/><circle cx="72.64" cy="132.88" r="2.2"/><circle cx="74.61" cy="136.47" r="2.2"/><circle cx="76.57" cy="139.83" r="2.2"/><circle cx="78.54" cy="142.99" r="2.2"/><circle cx="80.50" cy="145.97" r="2.2"/><circle cx="82.47" cy="148.79" r="2.2"/><circle cx="84.44" cy="151.45" r="2.2"/><circle cx="86.41" cy="153.97" r="2.2"/><circle cx="88.38" cy="156.37" r="2.2"/><circle cx="90.34" cy="158.64" r="2.2"/><circle cx="92.31" cy="160.80" r="2.2"/><circle cx="94.28" cy="162.85" r="2.2"/><circle cx="96.25" cy="164.81" r="2.2"/><circle cx="98.22" cy="166.68" r="2.2"/><circle cx="100.19" cy="168.47" r="2.2"/><circle cx="102.16" cy="170.18" r="2.2"/><circle cx="104.13" cy="171.81" r="2.2"/><circle cx="106.10" cy="173.38" r="2.2"/><circle cx="108.07" cy="174.88" r="2.2"/><circle cx="110.03" cy="176.32" r="2.2"/><circle cx="112.00" cy="177.71" r="2.2"/><circle cx="113.97" cy="179.04" r="2.2"/><circle cx="115.93" cy="180.32" r="2.2"/><circle cx="117.90" cy="181.55" r="2.2"/><circle cx="119.86" cy="182.73" r="2.2"/><circle cx="121.83" cy="183.88" r="2.2"/><circle cx="123.79" cy="184.98" r="2.2"/><circle cx="125.75" cy="186.05" r="2.2"/><circle cx="127.72" cy="187.07" r="2.2"/><circle cx="129.68" cy="188.07" r="2.2"/><circle cx="131.64" cy="189.03" r="2.2"/><circle cx="133.60" cy="189.96" r="2.2"/><circle cx="135.56" cy="190.86" r="2.2"/><circle cx="137.52" cy="191.73" r="2.2"/><circle cx="139.48" cy="192.58" r="2.2"/><circle cx="141.43" cy="193.39" r="2.2"/><circle cx="143.39" cy="194.19" r="2.2"/><circle cx="145.35" cy="194.96" r="2.2"/><circle cx="147.30" cy="195.71" r="2.2"/><circle cx="149.26" cy="196.43" r="2.2"/><circle cx="151.22" cy="197.14" r="2.2"/><circle cx="153.17" cy="197.83" r="2.2"/><circle cx="155.13" cy="198.49" r="2.2"/></g>
<path d="M65.10,104.76 L65.34,105.45 L65.57,106.13 L65.81,106.81 L66.05,107.47 L66.28,108.13 L66.52,108.79 L66.75,109.44 L66.99,110.08 L67.23,110.72 L67.46,111.35 L67.70,111.97 L67.94,112.59 L68.17,113.20 L68.41,113.81 L68.65,114.41 L68.88,115.00 L69.12,115.59 L69.36,116.18 L69.59,116.76 L69.83,117.33 L70.06,117.90 L70.30,118.46 L70.54,119.02 L70.77,119.57 L71.01,120.12 L71.25,120.67 L71.48,121.21 L71.72,121.74 L71.96,122.27 L72.19,122.79 L72.43,123.31 L72.67,123.83 L72.90,124.34 L73.14,124.85 L73.37,125.35 L73.61,125.85 L73.85,126.35 L74.08,126.84 L74.32,127.32 L74.56,127.81 L74.79,128.28 L75.03,128.76 L75.27,129.23 L75.50,129.69 L75.74,130.16 L75.98,130.62 L76.21,131.07 L76.45,131.52 L76.68,131.97 L76.92,132.42 L77.16,132.86 L77.39,133.29 L77.63,133.73 L77.87,134.16 L78.10,134.59 L78.34,135.01 L78.58,135.43 L78.81,135.85 L79.05,136.26 L79.29,136.67 L79.52,137.08 L79.76,137.49 L79.99,137.89 L80.23,138.29 L80.47,138.68 L80.70,139.08 L80.94,139.47 L81.18,139.85 L81.41,140.24 L81.65,140.62 L81.89,141.00 L82.12,141.37 L82.36,141.75 L82.60,142.12 L82.83,142.48 L83.07,142.85 L83.30,143.21 L83.54,143.57 L83.78,143.93 L84.01,144.28 L84.25,144.63 L84.49,144.98 L84.72,145.33 L84.96,145.68 L85.20,146.02 L85.43,146.36 L85.67,146.70 L85.91,147.03 L86.14,147.36 L86.38,147.70 L86.61,148.02 L86.85,148.35 L87.09,148.67 L87.32,149.00 L87.56,149.32 L87.80,149.63 L88.03,149.95 L88.27,150.26 L88.51,150.57 L88.74,150.88 L88.98,151.19 L89.22,151.49 L89.45,151.80 L89.69,152.10 L89.92,152.40 L90.16,152.69 L90.40,152.99 L90.63,153.28 L90.87,153.57 L91.11,153.86 L91.34,154.15 L91.58,154.44 L91.82,154.72 L92.05,155.00 L92.29,155.29 L92.53,155.56 L92.76,155.84 L93.00,156.12 L93.23,156.39 L93.47,156.66 L93.71,156.93 L93.94,157.20 L94.18,157.47 L94.42,157.73 L94.65,158.00 L94.89,158.26 L95.13,158.52 L95.36,158.78 L95.60,159.03 L95.83,159.29 L96.07,159.54 L96.31,159.80 L96.54,160.05 L96.78,160.30 L97.02,160.55 L97.25,160.79 L97.49,161.04 L97.73,161.28 L97.96,161.52 L98.20,161.77 L98.44,162.01 L98.67,162.24 L98.91,162.48 L99.14,162.72 L99.38,162.95 L99.62,163.18 L99.85,163.41 L100.09,163.64 L100.33,163.87 L100.56,164.10 L100.80,164.33 L101.04,164.55 L101.27,164.78 L101.51,165.00 L101.75,165.22 L101.98,165.44 L102.22,165.66 L102.45,165.88 L102.69,166.09 L102.93,166.31 L103.16,166.52 L103.40,166.73 L103.64,166.95 L103.87,167.16 L104.11,167.37 L104.35,167.57 L104.58,167.78 L104.82,167.99 L105.06,168.19 L105.29,168.40 L105.53,168.60 L105.76,168.80 L106.00,169.00 L106.24,169.20 L106.47,169.40 L106.71,169.60 L106.95,169.79 L107.18,169.99 L107.42,170.18 L107.66,170.37 L107.89,170.57 L108.13,170.76 L108.37,170.95 L108.60,171.14 L108.84,171.33 L109.07,171.51 L109.31,171.70 L109.55,171.89 L109.78,172.07 L110.02,172.25 L110.26,172.44 L110.49,172.62 L110.73,172.80 L110.97,172.98 L111.20,173.16 L111.44,173.34 L111.68,173.51 L111.91,173.69 L112.15,173.86 L112.38,174.04 L112.62,174.21 L112.86,174.39 L113.09,174.56 L113.33,174.73 L113.57,174.90 L113.80,175.07 L114.04,175.24 L114.28,175.40 L114.51,175.57 L114.75,175.74 L114.99,175.90 L115.22,176.07 L115.46,176.23 L115.69,176.39 L115.93,176.56 L116.17,176.72 L116.40,176.88 L116.64,177.04 L116.88,177.20 L117.11,177.36 L117.35,177.51 L117.59,177.67 L117.82,177.83 L118.06,177.98 L118.30,178.14 L118.53,178.29 L118.77,178.45 L119.00,178.60 L119.24,178.75 L119.48,178.90 L119.71,179.05 L119.95,179.20 L120.19,179.35 L120.42,179.50 L120.66,179.65 L120.90,179.79 L121.13,179.94 L121.37,180.09 L121.60,180.23 L121.84,180.38 L122.08,180.52 L122.31,180.66 L122.55,180.81 L122.79,180.95 L123.02,181.09 L123.26,181.23 L123.50,181.37 L123.73,181.51 L123.97,181.65 L124.21,181.79 L124.44,181.92 L124.68,182.06 L124.91,182.20 L125.15,182.33 L125.39,182.47 L125.62,182.60 L125.86,182.74 L126.10,182.87 L126.33,183.00 L126.57,183.14 L126.81,183.27 L127.04,183.40 L127.28,183.53 L127.52,183.66 L127.75,183.79 L127.99,183.92 L128.22,184.05 L128.46,184.17 L128.70,184.30 L128.93,184.43 L129.17,184.56 L129.41,184.68 L129.64,184.81 L129.88,184.93 L130.12,185.06 L130.35,185.18 L130.59,185.30 L130.83,185.42 L131.06,185.55 L131.30,185.67 L131.53,185.79 L131.77,185.91 L132.01,186.03 L132.24,186.15 L132.48,186.27 L132.72,186.39 L132.95,186.51 L133.19,186.62 L133.43,186.74 L133.66,186.86 L133.90,186.97 L134.14,187.09 L134.37,187.21 L134.61,187.32 L134.84,187.43 L135.08,187.55 L135.32,187.66 L135.55,187.78 L135.79,187.89 L136.03,188.00 L136.26,188.11 L136.50,188.22 L136.74,188.33 L136.97,188.44 L137.21,188.55 L137.45,188.66 L137.68,188.77 L137.92,188.88 L138.15,188.99 L138.39,189.10 L138.63,189.21 L138.86,189.31 L139.10,189.42 L139.34,189.53 L139.57,189.63 L139.81,189.74 L140.05,189.84 L140.28,189.95 L140.52,190.05 L140.76,190.15 L140.99,190.26 L141.23,190.36 L141.46,190.46 L141.70,190.57 L141.94,190.67 L142.17,190.77 L142.41,190.87 L142.65,190.97 L142.88,191.07 L143.12,191.17 L143.36,191.27 L143.59,191.37 L143.83,191.47 L144.07,191.57 L144.30,191.67 L144.54,191.76 L144.77,191.86 L145.01,191.96 L145.25,192.05 L145.48,192.15 L145.72,192.25 L145.96,192.34 L146.19,192.44 L146.43,192.53 L146.67,192.63 L146.90,192.72 L147.14,192.82 L147.38,192.91 L147.61,193.00 L147.85,193.09 L148.08,193.19 L148.32,193.28 L148.56,193.37 L148.79,193.46 L149.03,193.55 L149.27,193.65 L149.50,193.74 L149.74,193.83 L149.98,193.92 L150.21,194.01 L150.45,194.10 L150.68,194.18 L150.92,194.27 L151.16,194.36 L151.39,194.45 L151.63,194.54 L151.87,194.62 L152.10,194.71 L152.34,194.80 L152.58,194.89 L152.81,194.97 L153.05,195.06 L153.29,195.14 L153.52,195.23 L153.76,195.31 L153.99,195.40 L154.23,195.48 L154.47,195.57 L154.70,195.65 L154.94,195.73 L155.18,195.82 L155.41,195.90 L155.65,195.98 L155.89,196.07 L156.12,196.15 L156.36,196.23 L156.60,196.31 L156.83,196.39 L157.07,196.48 L157.30,196.56 L157.54,196.64 L157.78,196.72 L158.01,196.80 L158.25,196.88 L158.49,196.96 L158.72,197.04 L158.96,197.11 L159.20,197.19 L159.43,197.27" fill="none" stroke="#000000" stroke-width="2.8" stroke-linecap="round" stroke-linejoin="round"/>
</g>
<g clip-path="url(#cr)">
<path d="M327.70,59.25 L328.00,59.05 L328.31,58.86 L328.61,58.66 L328.92,58.47 L329.22,58.28 L329.53,58.10 L329.83,57.92 L330.14,57.74 L330.44,57.56 L330.75,57.39 L331.05,57.22 L331.36,57.05 L331.66,56.89 L331.97,56.72 L332.27,56.56 L332.58,56.41 L332.88,56.25 L333.19,56.10 L333.49,55.95 L333.80,55.80 L334.10,55.66 L334.41,55.52 L334.71,55.38 L335.02,55.24 L335.32,55.11 L335.63,54.97 L335.93,54.84 L336.24,54.72 L336.54,54.59 L336.85,54.47 L337.15,54.35 L337.46,54.23 L337.76,54.11 L338.07,53.99 L338.37,53.88 L338.68,53.77 L338.98,53.66 L339.29,53.55 L339.59,53.45 L339.90,53.35 L340.20,53.24 L340.51,53.15 L340.81,53.05 L341.12,52.95 L341.42,52.86 L341.73,52.77 L342.03,52.68 L342.34,52.59 L342.64,52.50 L342.95,52.41 L343.25,52.33 L343.56,52.25 L343.86,52.17 L344.17,52.09 L344.47,52.01 L344.78,51.94 L345.08,51.86 L345.39,51.79 L345.69,51.72 L346.00,51.65 L346.30,51.58 L346.61,51.52 L346.91,51.45 L347.22,51.39 L347.52,51.33 L347.83,51.26 L348.13,51.20 L348.44,51.15 L348.74,51.09 L349.05,51.03 L349.35,50.98 L349.66,50.93 L349.96,50.87 L350.27,50.82 L350.57,50.77 L350.88,50.73 L351.18,50.68 L351.49,50.63 L351.79,50.59 L352.10,50.55 L352.40,50.50 L352.71,50.46 L353.01,50.42 L353.32,50.38 L353.62,50.35 L353.93,50.31 L354.23,50.27 L354.54,50.24 L354.84,50.20 L355.15,50.17 L355.45,50.14 L355.76,50.11 L356.06,50.08 L356.37,50.05 L356.67,50.02 L356.98,49.99 L357.28,49.97 L357.59,49.94 L357.89,49.92 L358.19,49.90 L358.50,49.87 L358.80,49.85 L359.11,49.83 L359.41,49.81 L359.72,49.79 L360.02,49.77 L360.33,49.76 L360.63,49.74 L360.94,49.72 L361.24,49.71 L361.55,49.69 L361.85,49.68 L362.16,49.67 L362.46,49.66 L362.77,49.64 L363.07,49.63 L363.38,49.62 L363.68,49.61 L363.99,49.61 L364.29,49.60 L364.60,49.59 L364.90,49.58 L365.21,49.58 L365.51,49.57 L365.82,49.57 L366.12,49.56 L366.43,49.56 L366.73,49.56 L367.04,49.56 L367.34,49.56 L367.65,49.55 L367.95,49.55 L368.26,49.55 L368.56,49.55 L368.87,49.56 L369.17,49.56 L369.48,49.56 L369.78,49.56 L370.09,49.57 L370.39,49.57 L370.70,49.58 L371.00,49.58 L371.31,49.59 L371.61,49.59 L371.92,49.60 L372.22,49.61 L372.53,49.61 L372.83,49.62 L373.14,49.63 L373.44,49.64 L373.75,49.65 L374.05,49.66 L374.36,49.67 L374.66,49.68 L374.97,49.69 L375.27,49.70 L375.58,49.72 L375.88,49.73 L376.19,49.74 L376.49,49.75 L376.80,49.77 L377.10,49.78 L377.41,49.80 L377.71,49.81 L378.02,49.83 L378.32,49.84 L378.63,49.86 L378.93,49.88 L379.24,49.89 L379.54,49.91 L379.85,49.93 L380.15,49.94 L380.46,49.96 L380.76,49.98 L381.07,50.00 L381.37,50.02 L381.68,50.04 L381.98,50.06 L382.29,50.08 L382.59,50.10 L382.90,50.12 L383.20,50.14 L383.51,50.16 L383.81,50.18 L384.12,50.21 L384.42,50.23 L384.73,50.25 L385.03,50.27 L385.34,50.30 L385.64,50.32 L385.95,50.34 L386.25,50.37 L386.56,50.39 L386.86,50.42 L387.17,50.44 L387.47,50.47 L387.78,50.49 L388.08,50.52 L388.39,50.54 L388.69,50.57 L388.99,50.60 L389.30,50.62 L389.60,50.65 L389.91,50.68 L390.21,50.70 L390.52,50.73 L390.82,50.76 L391.13,50.79 L391.43,50.81 L391.74,50.84 L392.04,50.87 L392.35,50.90 L392.65,50.93 L392.96,50.96 L393.26,50.99 L393.57,51.02 L393.87,51.05 L394.18,51.08 L394.48,51.11 L394.79,51.14 L395.09,51.17 L395.40,51.20 L395.70,51.23 L396.01,51.26 L396.31,51.29 L396.62,51.32 L396.92,51.35 L397.23,51.38 L397.53,51.42 L397.84,51.45 L398.14,51.48 L398.45,51.51 L398.75,51.55 L399.06,51.58 L399.36,51.61 L399.67,51.64 L399.97,51.68 L400.28,51.71 L400.58,51.74 L400.89,51.78 L401.19,51.81 L401.50,51.84 L401.80,51.88 L402.11,51.91 L402.41,51.95 L402.72,51.98 L403.02,52.02 L403.33,52.05 L403.63,52.09 L403.94,52.12 L404.24,52.16 L404.55,52.19 L404.85,52.23 L405.16,52.26 L405.46,52.30 L405.77,52.33 L406.07,52.37 L406.38,52.40 L406.68,52.44 L406.99,52.48 L407.29,52.51 L407.60,52.55 L407.90,52.58 L408.21,52.62 L408.51,52.66 L408.82,52.69 L409.12,52.73 L409.43,52.77 L409.73,52.81 L410.04,52.84 L410.34,52.88 L410.65,52.92 L410.95,52.95 L411.26,52.99 L411.56,53.03 L411.87,53.07 L412.17,53.11 L412.48,53.14 L412.78,53.18 L413.09,53.22 L413.39,53.26 L413.70,53.30 L414.00,53.33 L414.31,53.37 L414.61,53.41 L414.92,53.45 L415.22,53.49 L415.53,53.53 L415.83,53.57 L416.14,53.60 L416.44,53.64 L416.75,53.68 L417.05,53.72 L417.36,53.76 L417.66,53.80 L417.97,53.84 L418.27,53.88 L418.58,53.92 L418.88,53.96" fill="none" stroke="#000000" stroke-width="3.3" stroke-linecap="round" stroke-linejoin="round"/>
<path d="M327.70,59.42 L328.10,59.07 L328.50,58.72 L328.91,58.38 L329.31,58.05 L329.71,57.73 L330.11,57.42 L330.52,57.11 L330.92,56.81 L331.32,56.52 L331.72,56.24 L332.13,55.96 L332.53,55.69 L332.93,55.42 L333.33,55.16 L333.73,54.91 L334.14,54.66 L334.54,54.42 L334.94,54.19 L335.34,53.96 L335.75,53.74 L336.15,53.52 L336.55,53.31 L336.95,53.11 L337.35,52.91 L337.76,52.71 L338.16,52.52 L338.56,52.33 L338.96,52.15 L339.37,51.98 L339.77,51.81 L340.17,51.64 L340.57,51.48 L340.98,51.32 L341.38,51.16 L341.78,51.01 L342.18,50.87 L342.58,50.72 L342.99,50.59 L343.39,50.45 L343.79,50.32 L344.19,50.19 L344.60,50.07 L345.00,49.95 L345.40,49.83 L345.80,49.72 L346.20,49.61 L346.61,49.51 L347.01,49.40 L347.41,49.30 L347.81,49.20 L348.22,49.11 L348.62,49.02 L349.02,48.93 L349.42,48.84 L349.83,48.76 L350.23,48.68 L350.63,48.60 L351.03,48.53 L351.43,48.45 L351.84,48.38 L352.24,48.31 L352.64,48.25 L353.04,48.18 L353.45,48.12 L353.85,48.06 L354.25,48.01 L354.65,47.95 L355.05,47.90 L355.46,47.85 L355.86,47.80 L356.26,47.75 L356.66,47.71 L357.07,47.66 L357.47,47.62 L357.87,47.58 L358.27,47.54 L358.68,47.51 L359.08,47.47 L359.48,47.44 L359.88,47.41 L360.28,47.38 L360.69,47.35 L361.09,47.33 L361.49,47.30 L361.89,47.28 L362.30,47.25 L362.70,47.23 L363.10,47.21 L363.50,47.19 L363.90,47.18 L364.31,47.16 L364.71,47.15 L365.11,47.13 L365.51,47.12 L365.92,47.11 L366.32,47.10 L366.72,47.09 L367.12,47.08 L367.53,47.08 L367.93,47.07 L368.33,47.07 L368.73,47.06 L369.13,47.06 L369.54,47.06 L369.94,47.06 L370.34,47.06 L370.74,47.06 L371.15,47.06 L371.55,47.06 L371.95,47.07 L372.35,47.07 L372.75,47.08 L373.16,47.08 L373.56,47.09 L373.96,47.10 L374.36,47.11 L374.77,47.12 L375.17,47.13 L375.57,47.14 L375.97,47.15 L376.38,47.16 L376.78,47.17 L377.18,47.19 L377.58,47.20 L377.98,47.21 L378.39,47.23 L378.79,47.24 L379.19,47.26 L379.59,47.28 L380.00,47.29 L380.40,47.31 L380.80,47.33 L381.20,47.35 L381.60,47.37 L382.01,47.39 L382.41,47.41 L382.81,47.43 L383.21,47.45 L383.62,47.47 L384.02,47.50 L384.42,47.52 L384.82,47.54 L385.23,47.56 L385.63,47.59 L386.03,47.61 L386.43,47.64 L386.83,47.66 L387.24,47.69 L387.64,47.71 L388.04,47.74 L388.44,47.77 L388.85,47.79 L389.25,47.82 L389.65,47.85 L390.05,47.88 L390.45,47.90 L390.86,47.93 L391.26,47.96 L391.66,47.99 L392.06,48.02 L392.47,48.05 L392.87,48.08 L393.27,48.11 L393.67,48.14 L394.08,48.17 L394.48,48.20 L394.88,48.23 L395.28,48.27 L395.68,48.30 L396.09,48.33 L396.49,48.36 L396.89,48.39 L397.29,48.43 L397.70,48.46 L398.10,48.49 L398.50,48.53 L398.90,48.56 L399.30,48.59 L399.71,48.63 L400.11,48.66 L400.51,48.70 L400.91,48.73 L401.32,48.77 L401.72,48.80 L402.12,48.84 L402.52,48.87 L402.93,48.91 L403.33,48.94 L403.73,48.98 L404.13,49.01 L404.53,49.05 L404.94,49.08 L405.34,49.12 L405.74,49.16 L406.14,49.19 L406.55,49.23 L406.95,49.27 L407.35,49.30 L407.75,49.34 L408.15,49.38 L408.56,49.42 L408.96,49.45 L409.36,49.49 L409.76,49.53 L410.17,49.57 L410.57,49.60 L410.97,49.64 L411.37,49.68 L411.78,49.72 L412.18,49.76 L412.58,49.80 L412.98,49.83 L413.38,49.87 L413.79,49.91 L414.19,49.95 L414.59,49.99 L414.99,50.03 L415.40,50.07 L415.80,50.11 L416.20,50.15 L416.60,50.19 L417.00,50.22 L417.41,50.26 L417.81,50.30 L418.21,50.34 L418.61,50.38 L419.02,50.42 L419.42,50.46 L419.82,50.50 L420.22,50.54 L420.63,50.58 L421.03,50.62 L421.43,50.66 L421.83,50.70 L422.23,50.74 L422.64,50.78 L423.04,50.82 L423.44,50.86 L423.84,50.91 L424.25,50.95 L424.65,50.99 L425.05,51.03 L425.45,51.07 L425.85,51.11 L426.26,51.15 L426.66,51.19 L427.06,51.23 L427.46,51.27 L427.87,51.31 L428.27,51.35 L428.67,51.40 L429.07,51.44 L429.48,51.48 L429.88,51.52 L430.28,51.56 L430.68,51.60 L431.08,51.64 L431.49,51.68 L431.89,51.73 L432.29,51.77 L432.69,51.81 L433.10,51.85 L433.50,51.89 L433.90,51.93 L434.30,51.97 L434.70,52.02 L435.11,52.06 L435.51,52.10 L435.91,52.14 L436.31,52.18 L436.72,52.22 L437.12,52.27 L437.52,52.31 L437.92,52.35 L438.33,52.39 L438.73,52.43 L439.13,52.48 L439.53,52.52 L439.93,52.56 L440.34,52.60 L440.74,52.64 L441.14,52.69 L441.54,52.73 L441.95,52.77 L442.35,52.81 L442.75,52.85 L443.15,52.90 L443.55,52.94 L443.96,52.98 L444.36,53.02 L444.76,53.06 L445.16,53.11 L445.57,53.15 L445.97,53.19 L446.37,53.23 L446.77,53.28 L447.18,53.32 L447.58,53.36 L447.98,53.40" fill="none" stroke="#e8202a" stroke-width="3.3" stroke-linecap="round" stroke-linejoin="round"/>
<path d="M327.70,63.57 L328.21,62.94 L328.73,62.32 L329.24,61.72 L329.75,61.14 L330.26,60.57 L330.78,60.02 L331.29,59.49 L331.80,58.96 L332.31,58.46 L332.83,57.96 L333.34,57.48 L333.85,57.02 L334.36,56.56 L334.88,56.12 L335.39,55.70 L335.90,55.28 L336.41,54.87 L336.93,54.48 L337.44,54.10 L337.95,53.73 L338.46,53.37 L338.98,53.02 L339.49,52.67 L340.00,52.34 L340.51,52.02 L341.03,51.71 L341.54,51.41 L342.05,51.11 L342.56,50.83 L343.08,50.55 L343.59,50.28 L344.10,50.02 L344.61,49.77 L345.13,49.52 L345.64,49.28 L346.15,49.05 L346.67,48.83 L347.18,48.61 L347.69,48.40 L348.20,48.20 L348.72,48.00 L349.23,47.81 L349.74,47.63 L350.25,47.45 L350.77,47.27 L351.28,47.10 L351.79,46.94 L352.30,46.79 L352.82,46.63 L353.33,46.49 L353.84,46.35 L354.35,46.21 L354.87,46.08 L355.38,45.95 L355.89,45.82 L356.40,45.71 L356.92,45.59 L357.43,45.48 L357.94,45.37 L358.45,45.27 L358.97,45.17 L359.48,45.08 L359.99,44.99 L360.50,44.90 L361.02,44.81 L361.53,44.73 L362.04,44.66 L362.56,44.58 L363.07,44.51 L363.58,44.44 L364.09,44.38 L364.61,44.32 L365.12,44.26 L365.63,44.20 L366.14,44.14 L366.66,44.09 L367.17,44.04 L367.68,44.00 L368.19,43.95 L368.71,43.91 L369.22,43.87 L369.73,43.84 L370.24,43.80 L370.76,43.77 L371.27,43.74 L371.78,43.71 L372.29,43.68 L372.81,43.66 L373.32,43.64 L373.83,43.62 L374.34,43.60 L374.86,43.58 L375.37,43.56 L375.88,43.55 L376.39,43.54 L376.91,43.53 L377.42,43.52 L377.93,43.51 L378.44,43.50 L378.96,43.50 L379.47,43.50 L379.98,43.49 L380.50,43.49 L381.01,43.50 L381.52,43.50 L382.03,43.50 L382.55,43.50 L383.06,43.51 L383.57,43.52 L384.08,43.52 L384.60,43.53 L385.11,43.54 L385.62,43.55 L386.13,43.57 L386.65,43.58 L387.16,43.59 L387.67,43.61 L388.18,43.62 L388.70,43.64 L389.21,43.66 L389.72,43.68 L390.23,43.70 L390.75,43.72 L391.26,43.74 L391.77,43.76 L392.28,43.78 L392.80,43.80 L393.31,43.83 L393.82,43.85 L394.33,43.88 L394.85,43.90 L395.36,43.93 L395.87,43.95 L396.39,43.98 L396.90,44.01 L397.41,44.04 L397.92,44.07 L398.44,44.10 L398.95,44.13 L399.46,44.16 L399.97,44.19 L400.49,44.22 L401.00,44.26 L401.51,44.29 L402.02,44.32 L402.54,44.36 L403.05,44.39 L403.56,44.42 L404.07,44.46 L404.59,44.49 L405.10,44.53 L405.61,44.57 L406.12,44.60 L406.64,44.64 L407.15,44.68 L407.66,44.71 L408.17,44.75 L408.69,44.79 L409.20,44.83 L409.71,44.87 L410.22,44.91 L410.74,44.95 L411.25,44.99 L411.76,45.03 L412.27,45.07 L412.79,45.11 L413.30,45.15 L413.81,45.19 L414.33,45.23 L414.84,45.27 L415.35,45.32 L415.86,45.36 L416.38,45.40 L416.89,45.44 L417.40,45.49 L417.91,45.53 L418.43,45.57 L418.94,45.62 L419.45,45.66 L419.96,45.70 L420.48,45.75 L420.99,45.79 L421.50,45.84 L422.01,45.88 L422.53,45.92 L423.04,45.97 L423.55,46.01 L424.06,46.06 L424.58,46.11 L425.09,46.15 L425.60,46.20 L426.11,46.24 L426.63,46.29 L427.14,46.33 L427.65,46.38 L428.16,46.43 L428.68,46.47 L429.19,46.52 L429.70,46.57 L430.22,46.61 L430.73,46.66 L431.24,46.71 L431.75,46.75 L432.27,46.80 L432.78,46.85 L433.29,46.90 L433.80,46.94 L434.32,46.99 L434.83,47.04 L435.34,47.09 L435.85,47.13 L436.37,47.18 L436.88,47.23 L437.39,47.28 L437.90,47.33 L438.42,47.37 L438.93,47.42 L439.44,47.47 L439.95,47.52 L440.47,47.57 L440.98,47.62 L441.49,47.67 L442.00,47.71 L442.52,47.76 L443.03,47.81 L443.54,47.86 L444.05,47.91 L444.57,47.96 L445.08,48.01 L445.59,48.06 L446.10,48.11 L446.62,48.16 L447.13,48.20 L447.64,48.25 L448.16,48.30 L448.67,48.35 L449.18,48.40 L449.69,48.45 L450.21,48.50 L450.72,48.55 L451.23,48.60 L451.74,48.65 L452.26,48.70 L452.77,48.75 L453.28,48.80 L453.79,48.85 L454.31,48.90 L454.82,48.95 L455.33,49.00 L455.84,49.05 L456.36,49.10 L456.87,49.15 L457.38,49.20 L457.89,49.25 L458.41,49.30 L458.92,49.35 L459.43,49.40 L459.94,49.45 L460.46,49.50 L460.97,49.55 L461.48,49.60 L461.99,49.65 L462.51,49.70 L463.02,49.75 L463.53,49.80 L464.05,49.85 L464.56,49.90 L465.07,49.95 L465.58,50.00 L466.10,50.05 L466.61,50.10 L467.12,50.15 L467.63,50.21 L468.15,50.26 L468.66,50.31 L469.17,50.36 L469.68,50.41 L470.20,50.46 L470.71,50.51 L471.22,50.56 L471.73,50.61 L472.25,50.66 L472.76,50.71 L473.27,50.76 L473.78,50.81 L474.30,50.86 L474.81,50.91 L475.32,50.97 L475.83,51.02 L476.35,51.07 L476.86,51.12 L477.37,51.17 L477.88,51.22 L478.40,51.27 L478.91,51.32 L479.42,51.37 L479.93,51.42 L480.45,51.47 L480.96,51.52" fill="none" stroke="#3049a8" stroke-width="3.3" stroke-linecap="round" stroke-linejoin="round"/>
<path d="M327.70,72.65 L328.35,71.11 L329.00,69.63 L329.65,68.22 L330.30,66.87 L330.94,65.58 L331.59,64.35 L332.24,63.17 L332.89,62.05 L333.54,60.98 L334.19,59.95 L334.84,58.97 L335.49,58.04 L336.13,57.14 L336.78,56.29 L337.43,55.48 L338.08,54.70 L338.73,53.95 L339.38,53.25 L340.03,52.57 L340.68,51.92 L341.33,51.31 L341.97,50.72 L342.62,50.16 L343.27,49.62 L343.92,49.11 L344.57,48.62 L345.22,48.16 L345.87,47.72 L346.52,47.29 L347.16,46.89 L347.81,46.51 L348.46,46.14 L349.11,45.79 L349.76,45.46 L350.41,45.15 L351.06,44.84 L351.71,44.56 L352.36,44.29 L353.00,44.03 L353.65,43.78 L354.30,43.55 L354.95,43.32 L355.60,43.11 L356.25,42.91 L356.90,42.72 L357.55,42.54 L358.19,42.37 L358.84,42.20 L359.49,42.05 L360.14,41.90 L360.79,41.76 L361.44,41.63 L362.09,41.51 L362.74,41.39 L363.39,41.28 L364.03,41.17 L364.68,41.08 L365.33,40.98 L365.98,40.90 L366.63,40.81 L367.28,40.74 L367.93,40.66 L368.58,40.59 L369.23,40.53 L369.87,40.47 L370.52,40.42 L371.17,40.36 L371.82,40.32 L372.47,40.27 L373.12,40.23 L373.77,40.19 L374.42,40.16 L375.06,40.13 L375.71,40.10 L376.36,40.07 L377.01,40.05 L377.66,40.02 L378.31,40.00 L378.96,39.99 L379.61,39.97 L380.26,39.96 L380.90,39.95 L381.55,39.94 L382.20,39.93 L382.85,39.93 L383.50,39.92 L384.15,39.92 L384.80,39.92 L385.45,39.92 L386.09,39.92 L386.74,39.93 L387.39,39.93 L388.04,39.94 L388.69,39.95 L389.34,39.95 L389.99,39.96 L390.64,39.97 L391.29,39.98 L391.93,40.00 L392.58,40.01 L393.23,40.02 L393.88,40.04 L394.53,40.05 L395.18,40.07 L395.83,40.09 L396.48,40.10 L397.12,40.12 L397.77,40.14 L398.42,40.16 L399.07,40.18 L399.72,40.20 L400.37,40.22 L401.02,40.24 L401.67,40.26 L402.32,40.29 L402.96,40.31 L403.61,40.33 L404.26,40.36 L404.91,40.38 L405.56,40.40 L406.21,40.43 L406.86,40.45 L407.51,40.48 L408.15,40.50 L408.80,40.53 L409.45,40.56 L410.10,40.58 L410.75,40.61 L411.40,40.64 L412.05,40.66 L412.70,40.69 L413.35,40.72 L413.99,40.75 L414.64,40.78 L415.29,40.80 L415.94,40.83 L416.59,40.86 L417.24,40.89 L417.89,40.92 L418.54,40.95 L419.18,40.98 L419.83,41.01 L420.48,41.04 L421.13,41.06 L421.78,41.09 L422.43,41.12 L423.08,41.15 L423.73,41.18 L424.38,41.21 L425.02,41.24 L425.67,41.28 L426.32,41.31 L426.97,41.34 L427.62,41.37 L428.27,41.40 L428.92,41.43 L429.57,41.46 L430.22,41.49 L430.86,41.52 L431.51,41.55 L432.16,41.58 L432.81,41.61 L433.46,41.64 L434.11,41.68 L434.76,41.71 L435.41,41.74 L436.05,41.77 L436.70,41.80 L437.35,41.83 L438.00,41.86 L438.65,41.90 L439.30,41.93 L439.95,41.96 L440.60,41.99 L441.25,42.02 L441.89,42.05 L442.54,42.09 L443.19,42.12 L443.84,42.15 L444.49,42.18 L445.14,42.21 L445.79,42.24 L446.44,42.28 L447.08,42.31 L447.73,42.34 L448.38,42.37 L449.03,42.40 L449.68,42.44 L450.33,42.47 L450.98,42.50 L451.63,42.53 L452.28,42.56 L452.92,42.60 L453.57,42.63 L454.22,42.66 L454.87,42.69 L455.52,42.72 L456.17,42.76 L456.82,42.79 L457.47,42.82 L458.11,42.85 L458.76,42.88 L459.41,42.92 L460.06,42.95 L460.71,42.98 L461.36,43.01 L462.01,43.04 L462.66,43.08 L463.31,43.11 L463.95,43.14 L464.60,43.17 L465.25,43.21 L465.90,43.24 L466.55,43.27 L467.20,43.30 L467.85,43.33 L468.50,43.37 L469.14,43.40 L469.79,43.43 L470.44,43.46 L471.09,43.50 L471.74,43.53 L472.39,43.56 L473.04,43.59 L473.69,43.62 L474.34,43.66 L474.98,43.69 L475.63,43.72 L476.28,43.75 L476.93,43.79 L477.58,43.82 L478.23,43.85 L478.88,43.88 L479.53,43.92 L480.17,43.95 L480.82,43.98 L481.47,44.01 L482.12,44.04 L482.77,44.08 L483.42,44.11 L484.07,44.14 L484.72,44.17 L485.37,44.21 L486.01,44.24 L486.66,44.27 L487.31,44.30 L487.96,44.34 L488.61,44.37 L489.26,44.40 L489.91,44.43 L490.56,44.46 L491.21,44.50 L491.85,44.53 L492.50,44.56 L493.15,44.59 L493.80,44.63 L494.45,44.66 L495.10,44.69 L495.75,44.72 L496.40,44.76 L497.04,44.79 L497.69,44.82 L498.34,44.85 L498.99,44.88 L499.64,44.92 L500.29,44.95 L500.94,44.98 L501.59,45.01 L502.24,45.05 L502.88,45.08 L503.53,45.11 L504.18,45.14 L504.83,45.18 L505.48,45.21 L506.13,45.24 L506.78,45.27 L507.43,45.30 L508.07,45.34 L508.72,45.37 L509.37,45.40 L510.02,45.43 L510.67,45.47 L511.32,45.50 L511.97,45.53 L512.62,45.56 L513.27,45.60 L513.91,45.63 L514.56,45.66 L515.21,45.69 L515.86,45.72 L516.51,45.76 L517.16,45.79 L517.81,45.82 L518.46,45.85 L519.10,45.89 L519.75,45.92 L520.40,45.95 L521.05,45.98 L521.70,46.02" fill="none" stroke="#5fba45" stroke-width="3.3" stroke-linecap="round" stroke-linejoin="round"/>
<g fill="#000"><circle cx="331.30" cy="55.90" r="1.75"/><circle cx="336.19" cy="55.90" r="1.75"/><circle cx="341.08" cy="55.90" r="1.75"/><circle cx="345.97" cy="55.90" r="1.75"/><circle cx="350.86" cy="55.90" r="1.75"/><circle cx="355.75" cy="55.90" r="1.75"/><circle cx="360.63" cy="55.90" r="1.75"/><circle cx="365.52" cy="55.90" r="1.75"/><circle cx="370.41" cy="55.90" r="1.75"/><circle cx="375.30" cy="55.90" r="1.75"/><circle cx="380.19" cy="55.90" r="1.75"/><circle cx="385.08" cy="55.90" r="1.75"/><circle cx="389.97" cy="55.90" r="1.75"/><circle cx="394.86" cy="55.90" r="1.75"/><circle cx="399.75" cy="55.90" r="1.75"/><circle cx="404.63" cy="55.90" r="1.75"/><circle cx="409.52" cy="55.90" r="1.75"/><circle cx="414.41" cy="55.90" r="1.75"/><circle cx="419.30" cy="55.90" r="1.75"/><circle cx="424.19" cy="55.90" r="1.75"/><circle cx="429.08" cy="55.90" r="1.75"/><circle cx="433.97" cy="55.90" r="1.75"/><circle cx="438.86" cy="55.90" r="1.75"/><circle cx="443.75" cy="55.90" r="1.75"/><circle cx="448.64" cy="55.90" r="1.75"/><circle cx="453.53" cy="55.90" r="1.75"/><circle cx="458.41" cy="55.90" r="1.75"/><circle cx="463.30" cy="55.90" r="1.75"/><circle cx="468.19" cy="55.90" r="1.75"/><circle cx="473.08" cy="55.90" r="1.75"/><circle cx="477.97" cy="55.90" r="1.75"/><circle cx="482.86" cy="55.90" r="1.75"/><circle cx="487.75" cy="55.90" r="1.75"/><circle cx="492.64" cy="55.90" r="1.75"/><circle cx="497.53" cy="55.90" r="1.75"/><circle cx="502.42" cy="55.90" r="1.75"/><circle cx="507.30" cy="55.90" r="1.75"/><circle cx="512.19" cy="55.90" r="1.75"/></g>
<path d="M330.89,112.83L332.27,111.11M335.67,107.21L337.19,105.61M340.55,102.37L342.01,101.07M345.47,98.25L346.79,97.24M350.38,94.74L351.58,93.96M355.30,91.74L356.36,91.14M360.20,89.16L361.16,88.71M365.11,86.94L365.95,86.59M370.00,85.01L370.76,84.74M374.90,83.34L375.56,83.13M379.78,81.87L380.38,81.71M384.67,80.59L385.19,80.46M389.55,79.45L390.01,79.35M394.42,78.45L394.84,78.37M399.29,77.56L399.67,77.50M404.16,76.77L404.50,76.72M409.03,76.07L409.33,76.03M413.90,75.44L414.16,75.40M420.70,74.66L420.94,74.64" stroke="#000000" stroke-width="3.4" stroke-linecap="round" fill="none"/>
<linearGradient id="glk" gradientUnits="userSpaceOnUse" x1="341.3" y1="0" x2="360.7" y2="0"><stop offset="0" stop-color="#000000" stop-opacity="0"/><stop offset="1" stop-color="#000000" stop-opacity="1"/></linearGradient>
<path d="M341.28,101.72 L341.65,101.40 L342.01,101.08 L342.38,100.76 L342.74,100.45 L343.11,100.15 L343.47,99.84 L343.84,99.54 L344.20,99.25 L344.57,98.95 L344.94,98.66 L345.30,98.38 L345.67,98.10 L346.03,97.82 L346.40,97.54 L346.76,97.27 L347.13,97.00 L347.49,96.73 L347.86,96.47 L348.23,96.21 L348.59,95.96 L348.96,95.70 L349.32,95.45 L349.69,95.20 L350.05,94.96 L350.42,94.72 L350.79,94.48 L351.15,94.24 L351.52,94.01 L351.88,93.78 L352.25,93.55 L352.61,93.32 L352.98,93.10 L353.34,92.88 L353.71,92.66 L354.08,92.44 L354.44,92.23 L354.81,92.02 L355.17,91.81 L355.54,91.60 L355.90,91.40 L356.27,91.20 L356.63,91.00 L357.00,90.80 L357.37,90.61 L357.73,90.42 L358.10,90.22 L358.46,90.04 L358.83,89.85 L359.19,89.66 L359.56,89.48 L359.92,89.30 L360.29,89.12 L360.66,88.95 L361.02,88.77 L361.39,88.60 L361.75,88.43 L362.12,88.26 L362.48,88.09 L362.85,87.93 L363.21,87.76 L363.58,87.60 L363.95,87.44 L364.31,87.28 L364.68,87.12 L365.04,86.97 L365.41,86.82 L365.77,86.66 L366.14,86.51 L366.50,86.36 L366.87,86.22 L367.24,86.07 L367.60,85.93 L367.97,85.78 L368.33,85.64 L368.70,85.50 L369.06,85.37 L369.43,85.23 L369.80,85.09 L370.16,84.96 L370.53,84.83 L370.89,84.69 L371.26,84.56 L371.62,84.44 L371.99,84.31 L372.35,84.18 L372.72,84.06 L373.09,83.93 L373.45,83.81 L373.82,83.69 L374.18,83.57 L374.55,83.45 L374.91,83.33 L375.28,83.22 L375.64,83.10 L376.01,82.99 L376.38,82.87 L376.74,82.76 L377.11,82.65 L377.47,82.54 L377.84,82.43 L378.20,82.33 L378.57,82.22 L378.93,82.11 L379.30,82.01 L379.67,81.91 L380.03,81.80 L380.40,81.70 L380.76,81.60 L381.13,81.50 L381.49,81.40 L381.86,81.31 L382.22,81.21 L382.59,81.11 L382.96,81.02 L383.32,80.92 L383.69,80.83 L384.05,80.74 L384.42,80.65 L384.78,80.56 L385.15,80.47 L385.51,80.38 L385.88,80.29 L386.25,80.20 L386.61,80.12 L386.98,80.03 L387.34,79.95 L387.71,79.86 L388.07,79.78 L388.44,79.70 L388.81,79.62 L389.17,79.53 L389.54,79.45 L389.90,79.38 L390.27,79.30 L390.63,79.22 L391.00,79.14 L391.36,79.06 L391.73,78.99 L392.10,78.91 L392.46,78.84 L392.83,78.77 L393.19,78.69 L393.56,78.62 L393.92,78.55 L394.29,78.48 L394.65,78.41 L395.02,78.34 L395.39,78.27 L395.75,78.20 L396.12,78.13 L396.48,78.06 L396.85,78.00 L397.21,77.93 L397.58,77.86 L397.94,77.80 L398.31,77.73 L398.68,77.67 L399.04,77.61 L399.41,77.54 L399.77,77.48 L400.14,77.42 L400.50,77.36 L400.87,77.30 L401.23,77.24 L401.60,77.18 L401.97,77.12 L402.33,77.06 L402.70,77.00 L403.06,76.94 L403.43,76.89 L403.79,76.83 L404.16,76.77 L404.52,76.72 L404.89,76.66 L405.26,76.61 L405.62,76.55 L405.99,76.50 L406.35,76.45 L406.72,76.39 L407.08,76.34 L407.45,76.29 L407.82,76.24 L408.18,76.19 L408.55,76.13 L408.91,76.08 L409.28,76.03 L409.64,75.98 L410.01,75.94 L410.37,75.89 L410.74,75.84 L411.11,75.79 L411.47,75.74 L411.84,75.70 L412.20,75.65 L412.57,75.60 L412.93,75.56 L413.30,75.51 L413.66,75.47 L414.03,75.42" fill="none" stroke="url(#glk)" stroke-width="3.3" stroke-linecap="butt" stroke-linejoin="round"/>
<path d="M331.00,140.00L332.16,138.12M335.75,132.95L337.11,131.22M340.51,127.35L342.05,125.78M345.43,122.68L346.83,121.51M350.35,118.84L351.61,117.96M355.27,115.63L356.39,114.97M360.18,112.91L361.18,112.41M365.09,110.57L365.97,110.19M369.99,108.55L370.77,108.25M374.88,106.78L375.58,106.54M379.76,105.21L380.40,105.02M384.65,103.82L385.21,103.67M389.52,102.58L390.04,102.45M394.40,101.46L394.86,101.35M399.27,100.44L399.69,100.36M404.13,99.52L404.53,99.45M409.00,98.68L409.36,98.62M413.86,97.90L414.20,97.85M418.73,97.19L419.03,97.15M423.59,96.54L423.87,96.50M428.45,95.93L428.71,95.90M433.31,95.36L433.55,95.34M438.17,94.84L438.39,94.81M443.02,94.35L443.24,94.33M447.88,93.89L448.08,93.87" stroke="#e8202a" stroke-width="3.4" stroke-linecap="round" fill="none"/>
<linearGradient id="glr" gradientUnits="userSpaceOnUse" x1="365.5" y1="0" x2="384.9" y2="0"><stop offset="0" stop-color="#e8202a" stop-opacity="0"/><stop offset="1" stop-color="#e8202a" stop-opacity="1"/></linearGradient>
<path d="M365.53,110.38 L365.94,110.20 L366.36,110.02 L366.77,109.85 L367.19,109.67 L367.60,109.50 L368.02,109.33 L368.43,109.16 L368.84,109.00 L369.26,108.83 L369.67,108.67 L370.09,108.51 L370.50,108.35 L370.92,108.20 L371.33,108.04 L371.74,107.89 L372.16,107.74 L372.57,107.58 L372.99,107.44 L373.40,107.29 L373.82,107.14 L374.23,107.00 L374.65,106.86 L375.06,106.72 L375.47,106.58 L375.89,106.44 L376.30,106.30 L376.72,106.17 L377.13,106.03 L377.55,105.90 L377.96,105.77 L378.37,105.64 L378.79,105.51 L379.20,105.38 L379.62,105.26 L380.03,105.13 L380.45,105.01 L380.86,104.89 L381.27,104.77 L381.69,104.65 L382.10,104.53 L382.52,104.41 L382.93,104.29 L383.35,104.18 L383.76,104.06 L384.17,103.95 L384.59,103.84 L385.00,103.73 L385.42,103.62 L385.83,103.51 L386.25,103.40 L386.66,103.29 L387.07,103.19 L387.49,103.08 L387.90,102.98 L388.32,102.87 L388.73,102.77 L389.15,102.67 L389.56,102.57 L389.97,102.47 L390.39,102.37 L390.80,102.27 L391.22,102.17 L391.63,102.08 L392.05,101.98 L392.46,101.89 L392.88,101.79 L393.29,101.70 L393.70,101.61 L394.12,101.52 L394.53,101.43 L394.95,101.34 L395.36,101.25 L395.78,101.16 L396.19,101.07 L396.60,100.98 L397.02,100.90 L397.43,100.81 L397.85,100.73 L398.26,100.64 L398.68,100.56 L399.09,100.48 L399.50,100.39 L399.92,100.31 L400.33,100.23 L400.75,100.15 L401.16,100.07 L401.58,99.99 L401.99,99.92 L402.40,99.84 L402.82,99.76 L403.23,99.68 L403.65,99.61 L404.06,99.53 L404.48,99.46 L404.89,99.38 L405.30,99.31 L405.72,99.24 L406.13,99.16 L406.55,99.09 L406.96,99.02 L407.38,98.95 L407.79,98.88 L408.21,98.81 L408.62,98.74 L409.03,98.67 L409.45,98.60 L409.86,98.53 L410.28,98.47 L410.69,98.40 L411.11,98.33 L411.52,98.27 L411.93,98.20 L412.35,98.14 L412.76,98.07 L413.18,98.01 L413.59,97.95 L414.01,97.88 L414.42,97.82 L414.83,97.76 L415.25,97.70 L415.66,97.63 L416.08,97.57 L416.49,97.51 L416.91,97.45 L417.32,97.39 L417.73,97.33 L418.15,97.27 L418.56,97.22 L418.98,97.16 L419.39,97.10 L419.81,97.04 L420.22,96.99 L420.63,96.93 L421.05,96.87 L421.46,96.82 L421.88,96.76 L422.29,96.71 L422.71,96.65 L423.12,96.60 L423.54,96.54 L423.95,96.49 L424.36,96.44 L424.78,96.38 L425.19,96.33 L425.61,96.28 L426.02,96.23 L426.44,96.17 L426.85,96.12 L427.26,96.07 L427.68,96.02 L428.09,95.97 L428.51,95.92 L428.92,95.87 L429.34,95.82 L429.75,95.77 L430.16,95.72 L430.58,95.68 L430.99,95.63 L431.41,95.58 L431.82,95.53 L432.24,95.48 L432.65,95.44 L433.06,95.39 L433.48,95.34 L433.89,95.30 L434.31,95.25 L434.72,95.21 L435.14,95.16 L435.55,95.12 L435.96,95.07 L436.38,95.03 L436.79,94.98 L437.21,94.94 L437.62,94.89 L438.04,94.85 L438.45,94.81 L438.86,94.77 L439.28,94.72 L439.69,94.68 L440.11,94.64 L440.52,94.60 L440.94,94.55 L441.35,94.51 L441.77,94.47 L442.18,94.43 L442.59,94.39 L443.01,94.35 L443.42,94.31 L443.84,94.27 L444.25,94.23 L444.67,94.19 L445.08,94.15 L445.49,94.11 L445.91,94.07 L446.32,94.03 L446.74,93.99 L447.15,93.96 L447.57,93.92 L447.98,93.88" fill="none" stroke="url(#glr)" stroke-width="3.3" stroke-linecap="butt" stroke-linejoin="round"/>
<path d="M331.09,166.16L332.07,164.18M335.85,157.35L337.01,155.48M340.62,150.22L341.94,148.46M345.39,144.32L346.87,142.69M350.23,139.29L351.73,137.90M355.14,134.96L356.52,133.86M360.05,131.23L361.31,130.36M364.96,127.98L366.10,127.29M369.86,125.13L370.90,124.57M374.75,122.61L375.71,122.15M379.64,120.36L380.52,119.98M384.53,118.33L385.33,118.02M389.41,116.50L390.15,116.24M394.29,114.84L394.97,114.62M399.17,113.33L399.79,113.14M404.04,111.94L404.62,111.78M408.91,110.66L409.45,110.52M413.78,109.47L414.28,109.36M418.65,108.38L419.11,108.28M423.51,107.36L423.95,107.27M428.38,106.41L428.78,106.33M433.24,105.52L433.62,105.46M438.10,104.69L438.46,104.63M442.96,103.91L443.30,103.86M447.82,103.18L448.14,103.13M452.68,102.48L452.98,102.44M457.54,101.83L457.82,101.79M462.39,101.21L462.67,101.18M467.25,100.62L467.51,100.59M472.11,100.07L472.35,100.04" stroke="#3049a8" stroke-width="3.4" stroke-linecap="round" fill="none"/>
<linearGradient id="glb" gradientUnits="userSpaceOnUse" x1="370.4" y1="0" x2="389.8" y2="0"><stop offset="0" stop-color="#3049a8" stop-opacity="0"/><stop offset="1" stop-color="#3049a8" stop-opacity="1"/></linearGradient>
<path d="M370.38,124.85 L370.90,124.58 L371.41,124.30 L371.93,124.03 L372.45,123.76 L372.96,123.50 L373.48,123.24 L374.00,122.98 L374.51,122.73 L375.03,122.48 L375.55,122.23 L376.06,121.98 L376.58,121.74 L377.10,121.50 L377.61,121.26 L378.13,121.03 L378.65,120.80 L379.16,120.57 L379.68,120.34 L380.20,120.12 L380.71,119.90 L381.23,119.68 L381.75,119.46 L382.26,119.25 L382.78,119.04 L383.30,118.83 L383.81,118.62 L384.33,118.41 L384.85,118.21 L385.36,118.01 L385.88,117.81 L386.40,117.61 L386.91,117.42 L387.43,117.23 L387.95,117.04 L388.46,116.85 L388.98,116.66 L389.50,116.48 L390.01,116.29 L390.53,116.11 L391.05,115.93 L391.56,115.75 L392.08,115.58 L392.60,115.40 L393.11,115.23 L393.63,115.06 L394.15,114.89 L394.66,114.72 L395.18,114.56 L395.70,114.39 L396.21,114.23 L396.73,114.07 L397.25,113.91 L397.76,113.75 L398.28,113.59 L398.80,113.44 L399.31,113.28 L399.83,113.13 L400.35,112.98 L400.86,112.83 L401.38,112.68 L401.90,112.53 L402.41,112.39 L402.93,112.24 L403.45,112.10 L403.96,111.96 L404.48,111.82 L405.00,111.68 L405.51,111.54 L406.03,111.40 L406.55,111.26 L407.06,111.13 L407.58,111.00 L408.10,110.86 L408.61,110.73 L409.13,110.60 L409.65,110.47 L410.16,110.34 L410.68,110.22 L411.20,110.09 L411.71,109.96 L412.23,109.84 L412.75,109.72 L413.26,109.60 L413.78,109.47 L414.30,109.35 L414.81,109.23 L415.33,109.12 L415.85,109.00 L416.36,108.88 L416.88,108.77 L417.40,108.65 L417.91,108.54 L418.43,108.43 L418.95,108.31 L419.46,108.20 L419.98,108.09 L420.50,107.98 L421.01,107.87 L421.53,107.77 L422.05,107.66 L422.57,107.55 L423.08,107.45 L423.60,107.34 L424.12,107.24 L424.63,107.14 L425.15,107.03 L425.67,106.93 L426.18,106.83 L426.70,106.73 L427.22,106.63 L427.73,106.53 L428.25,106.43 L428.77,106.34 L429.28,106.24 L429.80,106.14 L430.32,106.05 L430.83,105.95 L431.35,105.86 L431.87,105.77 L432.38,105.67 L432.90,105.58 L433.42,105.49 L433.93,105.40 L434.45,105.31 L434.97,105.22 L435.48,105.13 L436.00,105.04 L436.52,104.96 L437.03,104.87 L437.55,104.78 L438.07,104.70 L438.58,104.61 L439.10,104.53 L439.62,104.44 L440.13,104.36 L440.65,104.28 L441.17,104.19 L441.68,104.11 L442.20,104.03 L442.72,103.95 L443.23,103.87 L443.75,103.79 L444.27,103.71 L444.78,103.63 L445.30,103.55 L445.82,103.47 L446.33,103.40 L446.85,103.32 L447.37,103.24 L447.88,103.17 L448.40,103.09 L448.92,103.02 L449.43,102.94 L449.95,102.87 L450.47,102.79 L450.98,102.72 L451.50,102.65 L452.02,102.58 L452.53,102.50 L453.05,102.43 L453.57,102.36 L454.08,102.29 L454.60,102.22 L455.12,102.15 L455.63,102.08 L456.15,102.01 L456.67,101.94 L457.18,101.88 L457.70,101.81 L458.22,101.74 L458.73,101.67 L459.25,101.61 L459.77,101.54 L460.28,101.48 L460.80,101.41 L461.32,101.34 L461.83,101.28 L462.35,101.22 L462.87,101.15 L463.38,101.09 L463.90,101.03 L464.42,100.96 L464.93,100.90 L465.45,100.84 L465.97,100.78 L466.48,100.71 L467.00,100.65 L467.52,100.59 L468.03,100.53 L468.55,100.47 L469.07,100.41 L469.58,100.35 L470.10,100.29 L470.62,100.24 L471.13,100.18 L471.65,100.12 L472.17,100.06 L472.68,100.00 L473.20,99.95" fill="none" stroke="url(#glb)" stroke-width="3.3" stroke-linecap="butt" stroke-linejoin="round"/>
<path d="M331.24,194.23L331.92,192.14M336.00,181.22L336.86,179.20M340.77,170.93L341.79,168.98M345.54,162.54L346.72,160.69M350.31,155.56L351.65,153.81M355.10,149.65L356.56,148.01M359.92,144.54L361.44,143.06M364.82,140.03L366.24,138.83M369.72,136.08L371.04,135.11M374.62,132.60L375.84,131.80M379.52,129.49L380.64,128.83M384.41,126.71L385.45,126.16M389.30,124.20L390.26,123.74M394.19,121.92L395.07,121.53M399.07,119.84L399.89,119.51M403.95,117.93L404.71,117.65M408.82,116.18L409.54,115.93M413.70,114.56L414.36,114.34M418.57,113.05L419.19,112.87M423.44,111.66L424.02,111.50M428.31,110.35L428.85,110.21M433.17,109.13L433.69,109.01M438.04,107.99L438.52,107.88M442.90,106.92L443.36,106.82M447.76,105.90L448.20,105.82M452.62,104.95L453.04,104.87M457.48,104.05L457.88,103.98M462.34,103.19L462.72,103.13M467.20,102.38L467.56,102.32M472.06,101.61L472.40,101.56M476.92,100.88L477.24,100.83M481.78,100.18L482.08,100.14M486.63,99.51L486.93,99.47M491.49,98.88L491.77,98.84M496.35,98.27L496.61,98.23M501.20,97.68L501.46,97.65M506.06,97.12L506.30,97.10M510.91,96.59L511.15,96.56M515.77,96.07L515.99,96.05M520.62,95.58L520.84,95.56" stroke="#5fba45" stroke-width="3.4" stroke-linecap="round" fill="none"/>
<linearGradient id="glg" gradientUnits="userSpaceOnUse" x1="376.2" y1="0" x2="395.6" y2="0"><stop offset="0" stop-color="#5fba45" stop-opacity="0"/><stop offset="1" stop-color="#5fba45" stop-opacity="1"/></linearGradient>
<path d="M376.20,131.56 L376.93,131.09 L377.66,130.63 L378.39,130.18 L379.12,129.73 L379.86,129.30 L380.59,128.86 L381.32,128.44 L382.05,128.02 L382.78,127.61 L383.51,127.20 L384.24,126.80 L384.97,126.41 L385.71,126.02 L386.44,125.64 L387.17,125.27 L387.90,124.90 L388.63,124.53 L389.36,124.17 L390.09,123.82 L390.82,123.47 L391.55,123.12 L392.29,122.78 L393.02,122.45 L393.75,122.12 L394.48,121.79 L395.21,121.47 L395.94,121.15 L396.67,120.84 L397.40,120.53 L398.13,120.22 L398.87,119.92 L399.60,119.63 L400.33,119.33 L401.06,119.04 L401.79,118.76 L402.52,118.47 L403.25,118.20 L403.98,117.92 L404.72,117.65 L405.45,117.38 L406.18,117.11 L406.91,116.85 L407.64,116.59 L408.37,116.34 L409.10,116.08 L409.83,115.83 L410.56,115.59 L411.30,115.34 L412.03,115.10 L412.76,114.86 L413.49,114.62 L414.22,114.39 L414.95,114.16 L415.68,113.93 L416.41,113.71 L417.14,113.48 L417.88,113.26 L418.61,113.04 L419.34,112.83 L420.07,112.61 L420.80,112.40 L421.53,112.19 L422.26,111.99 L422.99,111.78 L423.73,111.58 L424.46,111.38 L425.19,111.18 L425.92,110.98 L426.65,110.79 L427.38,110.59 L428.11,110.40 L428.84,110.21 L429.57,110.03 L430.31,109.84 L431.04,109.66 L431.77,109.48 L432.50,109.30 L433.23,109.12 L433.96,108.94 L434.69,108.77 L435.42,108.60 L436.15,108.42 L436.89,108.25 L437.62,108.09 L438.35,107.92 L439.08,107.75 L439.81,107.59 L440.54,107.43 L441.27,107.27 L442.00,107.11 L442.74,106.95 L443.47,106.80 L444.20,106.64 L444.93,106.49 L445.66,106.33 L446.39,106.18 L447.12,106.03 L447.85,105.89 L448.58,105.74 L449.32,105.59 L450.05,105.45 L450.78,105.31 L451.51,105.16 L452.24,105.02 L452.97,104.88 L453.70,104.75 L454.43,104.61 L455.16,104.47 L455.90,104.34 L456.63,104.20 L457.36,104.07 L458.09,103.94 L458.82,103.81 L459.55,103.68 L460.28,103.55 L461.01,103.42 L461.75,103.30 L462.48,103.17 L463.21,103.04 L463.94,102.92 L464.67,102.80 L465.40,102.68 L466.13,102.56 L466.86,102.44 L467.59,102.32 L468.33,102.20 L469.06,102.08 L469.79,101.97 L470.52,101.85 L471.25,101.74 L471.98,101.62 L472.71,101.51 L473.44,101.40 L474.17,101.29 L474.91,101.18 L475.64,101.07 L476.37,100.96 L477.10,100.85 L477.83,100.74 L478.56,100.64 L479.29,100.53 L480.02,100.43 L480.76,100.32 L481.49,100.22 L482.22,100.12 L482.95,100.02 L483.68,99.91 L484.41,99.81 L485.14,99.71 L485.87,99.61 L486.60,99.52 L487.34,99.42 L488.07,99.32 L488.80,99.22 L489.53,99.13 L490.26,99.03 L490.99,98.94 L491.72,98.85 L492.45,98.75 L493.18,98.66 L493.92,98.57 L494.65,98.48 L495.38,98.39 L496.11,98.30 L496.84,98.21 L497.57,98.12 L498.30,98.03 L499.03,97.94 L499.77,97.85 L500.50,97.77 L501.23,97.68 L501.96,97.59 L502.69,97.51 L503.42,97.43 L504.15,97.34 L504.88,97.26 L505.61,97.17 L506.35,97.09 L507.08,97.01 L507.81,96.93 L508.54,96.85 L509.27,96.77 L510.00,96.69 L510.73,96.61 L511.46,96.53 L512.19,96.45 L512.93,96.37 L513.66,96.29 L514.39,96.22 L515.12,96.14 L515.85,96.06 L516.58,95.99 L517.31,95.91 L518.04,95.84 L518.78,95.76 L519.51,95.69 L520.24,95.62 L520.97,95.54 L521.70,95.47" fill="none" stroke="url(#glg)" stroke-width="3.3" stroke-linecap="butt" stroke-linejoin="round"/>
</g>
<rect x="65.0" y="12.0" width="189.80" height="200.30" fill="none" stroke="#000" stroke-width="3.4" stroke-linejoin="round"/>
<rect x="327.8" y="12.2" width="190.00" height="200.10" fill="none" stroke="#000" stroke-width="3.4" stroke-linejoin="round"/>
<text transform="translate(56.50,53.20) scale(1.0,1.08)" font-size="24" text-anchor="end" >0.3</text>
<text transform="translate(56.50,120.20) scale(1.0,1.08)" font-size="24" text-anchor="end" >0.2</text>
<text transform="translate(56.50,187.20) scale(1.0,1.08)" font-size="24" text-anchor="end" >0.1</text>
<text transform="translate(65.10,239.50) scale(1.0,1.1)" font-size="25.5" text-anchor="middle" >0</text>
<text transform="translate(327.70,239.50) scale(1.0,1.1)" font-size="25.5" text-anchor="middle" >0</text>
<text transform="translate(123.33,239.50) scale(1.0,1.1)" font-size="25.5" text-anchor="middle" >3</text>
<text transform="translate(385.90,239.50) scale(1.0,1.1)" font-size="25.5" text-anchor="middle" >3</text>
<text transform="translate(181.56,239.50) scale(1.0,1.1)" font-size="25.5" text-anchor="middle" >6</text>
<text transform="translate(444.10,239.50) scale(1.0,1.1)" font-size="25.5" text-anchor="middle" >6</text>
<text transform="translate(239.79,239.50) scale(1.0,1.1)" font-size="25.5" text-anchor="middle" >9</text>
<text transform="translate(502.30,239.50) scale(1.0,1.1)" font-size="25.5" text-anchor="middle" >9</text>
<text transform="translate(320.00,20.60) scale(1.0,1.08)" font-size="24" text-anchor="end" >1</text>
<text transform="translate(320.00,64.30) scale(1.0,1.08)" font-size="24" text-anchor="end" >0</text>
<text transform="translate(320.00,108.00) scale(1.0,1.08)" font-size="24" text-anchor="end" >-1</text>
<text transform="translate(320.00,151.70) scale(1.0,1.08)" font-size="24" text-anchor="end" >-2</text>
<text transform="translate(320.00,195.40) scale(1.0,1.08)" font-size="24" text-anchor="end" >-3</text>
<text transform="translate(114.00,269.80) scale(1.0,1.0)" font-size="27" text-anchor="start" >P (GPa)</text>
<text transform="translate(377.00,269.80) scale(1.0,1.0)" font-size="27" text-anchor="start" >P (GPa)</text>
<text transform="translate(252.30,38.00) scale(1.0,1.0)" font-size="25.7" text-anchor="end" >(a)</text>
<text transform="translate(516.00,36.50) scale(1.0,1.0)" font-size="25.7" text-anchor="end" >(b)</text>
<text transform="translate(21,261) rotate(-90) scale(0.98,1)" font-size="22.5"><tspan x="-1.02" y="0">(</tspan><tspan x="6.73" font-style="italic" y="0">∂</tspan><tspan x="20.41" y="0">C</tspan><tspan x="35.92" font-size="13.5" y="7.5">P</tspan><tspan x="44.29" y="0">/</tspan><tspan x="50.00" font-style="italic" y="0">∂</tspan><tspan x="65.71" y="0">P</tspan><tspan x="77.55" y="0">)</tspan><tspan x="85.31" font-size="15" y="-12">'</tspan><tspan x="84.69" font-size="13.5" y="7.5">T</tspan><tspan x="93.67" y="0">J</tspan><tspan x="112.24" y="0">K</tspan><tspan x="129.18" font-size="13.5" y="-12.0">-1</tspan><tspan x="148.57" y="0">mol</tspan><tspan x="185.10" font-size="13.5" y="-12.0">-1</tspan><tspan x="203.06" y="0">GPa</tspan><tspan x="248.16" font-size="13.5" y="-12.0">-1</tspan><tspan x="259.18" y="0">)</tspan></text>
<text transform="translate(293.7,271.3) rotate(-90) scale(0.98,1)" font-size="22.5"><tspan x="-1.02" y="0">(</tspan><tspan x="6.73" font-style="italic" y="0">∂</tspan><tspan x="20.41" y="0">C</tspan><tspan x="35.92" font-size="13.5" y="7.5">P</tspan><tspan x="44.29" y="0">/</tspan><tspan x="50.00" font-style="italic" y="0">∂</tspan><tspan x="65.71" y="0">P</tspan><tspan x="77.55" y="0">)</tspan><tspan x="85.31" font-size="15" y="-12">''</tspan><tspan x="84.69" font-size="13.5" y="7.5">T</tspan><tspan x="93.67" y="0">J</tspan><tspan x="112.24" y="0">K</tspan><tspan x="129.18" font-size="13.5" y="-12.0">-1</tspan><tspan x="148.57" y="0">mol</tspan><tspan x="185.10" font-size="13.5" y="-12.0">-1</tspan><tspan x="203.06" y="0">GPa</tspan><tspan x="248.16" font-size="13.5" y="-12.0">-1</tspan><tspan x="259.18" y="0">)</tspan></text>
</svg></body></html>
